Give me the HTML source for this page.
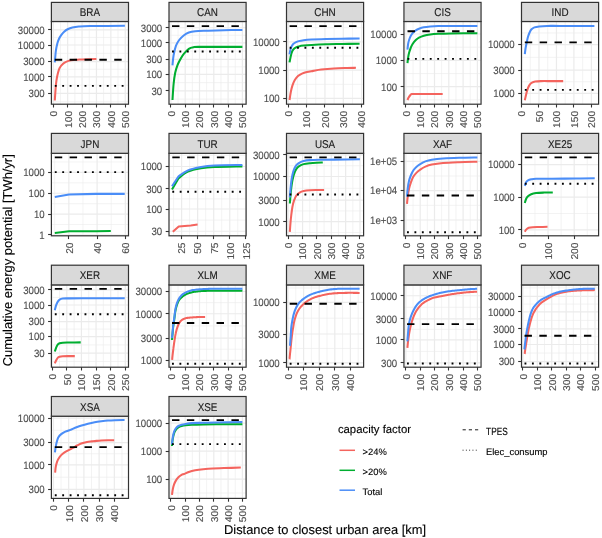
<!DOCTYPE html><html><head><meta charset="utf-8"><style>html,body{margin:0;padding:0;background:#fff}svg{display:block;will-change:transform}text{font-family:"Liberation Sans",sans-serif;text-rendering:geometricPrecision;stroke:currentColor;stroke-width:0.12px;paint-order:stroke}</style></head><body>
<svg width="602" height="538" viewBox="0 0 602 538">
<rect x="0" y="0" width="602" height="538" fill="#fff"/>
<g>
<line x1="51.4" y1="101.79" x2="128.5" y2="101.79" stroke="#EBEBEB" stroke-width="0.6"/>
<line x1="51.4" y1="85.15" x2="128.5" y2="85.15" stroke="#EBEBEB" stroke-width="0.6"/>
<line x1="51.4" y1="69.24" x2="128.5" y2="69.24" stroke="#EBEBEB" stroke-width="0.6"/>
<line x1="51.4" y1="53.33" x2="128.5" y2="53.33" stroke="#EBEBEB" stroke-width="0.6"/>
<line x1="51.4" y1="37.42" x2="128.5" y2="37.42" stroke="#EBEBEB" stroke-width="0.6"/>
<line x1="60.47" y1="21.5" x2="60.47" y2="104.2" stroke="#EBEBEB" stroke-width="0.6"/>
<line x1="74.86" y1="21.5" x2="74.86" y2="104.2" stroke="#EBEBEB" stroke-width="0.6"/>
<line x1="89.25" y1="21.5" x2="89.25" y2="104.2" stroke="#EBEBEB" stroke-width="0.6"/>
<line x1="103.64" y1="21.5" x2="103.64" y2="104.2" stroke="#EBEBEB" stroke-width="0.6"/>
<line x1="118.03" y1="21.5" x2="118.03" y2="104.2" stroke="#EBEBEB" stroke-width="0.6"/>
<line x1="51.4" y1="29.83" x2="128.5" y2="29.83" stroke="#EBEBEB" stroke-width="1.2"/>
<line x1="51.4" y1="45.01" x2="128.5" y2="45.01" stroke="#EBEBEB" stroke-width="1.2"/>
<line x1="51.4" y1="61.65" x2="128.5" y2="61.65" stroke="#EBEBEB" stroke-width="1.2"/>
<line x1="51.4" y1="76.83" x2="128.5" y2="76.83" stroke="#EBEBEB" stroke-width="1.2"/>
<line x1="51.4" y1="93.47" x2="128.5" y2="93.47" stroke="#EBEBEB" stroke-width="1.2"/>
<line x1="53.27" y1="21.5" x2="53.27" y2="104.2" stroke="#EBEBEB" stroke-width="1.2"/>
<line x1="67.66" y1="21.5" x2="67.66" y2="104.2" stroke="#EBEBEB" stroke-width="1.2"/>
<line x1="82.05" y1="21.5" x2="82.05" y2="104.2" stroke="#EBEBEB" stroke-width="1.2"/>
<line x1="96.45" y1="21.5" x2="96.45" y2="104.2" stroke="#EBEBEB" stroke-width="1.2"/>
<line x1="110.84" y1="21.5" x2="110.84" y2="104.2" stroke="#EBEBEB" stroke-width="1.2"/>
<line x1="125.23" y1="21.5" x2="125.23" y2="104.2" stroke="#EBEBEB" stroke-width="1.2"/>
<path d="M54.8,100.48 C54.93,98.53 55.33,92.08 55.6,88.8 C55.87,85.52 56,83.47 56.4,80.8 C56.8,78.13 57.47,74.93 58,72.8 C58.53,70.67 58.8,69.47 59.6,68 C60.4,66.53 61.73,65.01 62.8,64 C63.87,62.99 64.67,62.53 66,61.92 C67.33,61.31 68.93,60.69 70.8,60.32 C72.67,59.95 75.33,59.81 77.2,59.68 C79.07,59.55 78.8,59.63 82,59.52 C85.2,59.41 94,59.12 96.4,59.04" fill="none" stroke="#F4645E" stroke-width="2.05" stroke-linejoin="round"/>
<path d="M54.8,62.4 C54.88,61.47 55.09,58.8 55.28,56.8 C55.47,54.8 55.6,52.53 55.92,50.4 C56.24,48.27 56.72,45.87 57.2,44 C57.68,42.13 58.13,40.67 58.8,39.2 C59.47,37.73 60.27,36.48 61.2,35.2 C62.13,33.92 63.33,32.51 64.4,31.52 C65.47,30.53 66.27,29.95 67.6,29.28 C68.93,28.61 70.53,27.97 72.4,27.52 C74.27,27.07 75.87,26.8 78.8,26.56 C81.73,26.32 82.32,26.21 90,26.08 C97.68,25.95 119.07,25.81 124.88,25.76" fill="none" stroke="#4A8DF7" stroke-width="2.05" stroke-linejoin="round"/>
<line x1="54.8" y1="59.7" x2="124.9" y2="59.7" stroke="#000" stroke-width="1.86" stroke-dasharray="7.43 7.43"/>
<line x1="54.8" y1="85.9" x2="124.9" y2="85.9" stroke="#000" stroke-width="1.86" stroke-dasharray="1.86 5.57"/>
<rect x="51.4" y="21.5" width="77.1" height="82.7" fill="none" stroke="#333333" stroke-width="1.2"/>
<rect x="51.4" y="2.4" width="77.1" height="19.1" fill="#D9D9D9" stroke="#333333" stroke-width="1.2"/>
<text transform="translate(89.95,16.26) scale(0.96,1.1)" font-size="10.3" fill="#1A1A1A" color="#1A1A1A" text-anchor="middle">BRA</text>
<line x1="48.1" y1="29.5" x2="51.4" y2="29.5" stroke="#333333" stroke-width="1.1"/>
<text transform="translate(44.6,33.66) scale(0.975,1.08)" font-size="9.9" fill="#4D4D4D" color="#4D4D4D" text-anchor="end">30000</text>
<line x1="48.1" y1="45.5" x2="51.4" y2="45.5" stroke="#333333" stroke-width="1.1"/>
<text transform="translate(44.6,48.84) scale(0.975,1.08)" font-size="9.9" fill="#4D4D4D" color="#4D4D4D" text-anchor="end">10000</text>
<line x1="48.1" y1="61.5" x2="51.4" y2="61.5" stroke="#333333" stroke-width="1.1"/>
<text transform="translate(44.6,65.48) scale(0.975,1.08)" font-size="9.9" fill="#4D4D4D" color="#4D4D4D" text-anchor="end">3000</text>
<line x1="48.1" y1="76.5" x2="51.4" y2="76.5" stroke="#333333" stroke-width="1.1"/>
<text transform="translate(44.6,80.66) scale(0.975,1.08)" font-size="9.9" fill="#4D4D4D" color="#4D4D4D" text-anchor="end">1000</text>
<line x1="48.1" y1="93.5" x2="51.4" y2="93.5" stroke="#333333" stroke-width="1.1"/>
<text transform="translate(44.6,97.3) scale(0.975,1.08)" font-size="9.9" fill="#4D4D4D" color="#4D4D4D" text-anchor="end">300</text>
<line x1="53.5" y1="104.2" x2="53.5" y2="107.5" stroke="#333333" stroke-width="1.1"/>
<text transform="translate(57.12,110.9) rotate(-90) scale(1.035,1.0)" font-size="9.9" fill="#4D4D4D" color="#4D4D4D" text-anchor="end">0</text>
<line x1="67.5" y1="104.2" x2="67.5" y2="107.5" stroke="#333333" stroke-width="1.1"/>
<text transform="translate(71.51,110.9) rotate(-90) scale(1.035,1.0)" font-size="9.9" fill="#4D4D4D" color="#4D4D4D" text-anchor="end">100</text>
<line x1="82.5" y1="104.2" x2="82.5" y2="107.5" stroke="#333333" stroke-width="1.1"/>
<text transform="translate(85.9,110.9) rotate(-90) scale(1.035,1.0)" font-size="9.9" fill="#4D4D4D" color="#4D4D4D" text-anchor="end">200</text>
<line x1="96.5" y1="104.2" x2="96.5" y2="107.5" stroke="#333333" stroke-width="1.1"/>
<text transform="translate(100.29,110.9) rotate(-90) scale(1.035,1.0)" font-size="9.9" fill="#4D4D4D" color="#4D4D4D" text-anchor="end">300</text>
<line x1="110.5" y1="104.2" x2="110.5" y2="107.5" stroke="#333333" stroke-width="1.1"/>
<text transform="translate(114.68,110.9) rotate(-90) scale(1.035,1.0)" font-size="9.9" fill="#4D4D4D" color="#4D4D4D" text-anchor="end">400</text>
<line x1="125.5" y1="104.2" x2="125.5" y2="107.5" stroke="#333333" stroke-width="1.1"/>
<text transform="translate(129.07,110.9) rotate(-90) scale(1.035,1.0)" font-size="9.9" fill="#4D4D4D" color="#4D4D4D" text-anchor="end">500</text>
</g>
<g>
<line x1="169" y1="99.12" x2="246.1" y2="99.12" stroke="#EBEBEB" stroke-width="0.6"/>
<line x1="169" y1="82.62" x2="246.1" y2="82.62" stroke="#EBEBEB" stroke-width="0.6"/>
<line x1="169" y1="66.84" x2="246.1" y2="66.84" stroke="#EBEBEB" stroke-width="0.6"/>
<line x1="169" y1="51.06" x2="246.1" y2="51.06" stroke="#EBEBEB" stroke-width="0.6"/>
<line x1="169" y1="35.28" x2="246.1" y2="35.28" stroke="#EBEBEB" stroke-width="0.6"/>
<line x1="178.05" y1="21.5" x2="178.05" y2="104.2" stroke="#EBEBEB" stroke-width="0.6"/>
<line x1="192.35" y1="21.5" x2="192.35" y2="104.2" stroke="#EBEBEB" stroke-width="0.6"/>
<line x1="206.65" y1="21.5" x2="206.65" y2="104.2" stroke="#EBEBEB" stroke-width="0.6"/>
<line x1="220.95" y1="21.5" x2="220.95" y2="104.2" stroke="#EBEBEB" stroke-width="0.6"/>
<line x1="235.25" y1="21.5" x2="235.25" y2="104.2" stroke="#EBEBEB" stroke-width="0.6"/>
<line x1="169" y1="27.75" x2="246.1" y2="27.75" stroke="#EBEBEB" stroke-width="1.2"/>
<line x1="169" y1="42.81" x2="246.1" y2="42.81" stroke="#EBEBEB" stroke-width="1.2"/>
<line x1="169" y1="59.31" x2="246.1" y2="59.31" stroke="#EBEBEB" stroke-width="1.2"/>
<line x1="169" y1="74.37" x2="246.1" y2="74.37" stroke="#EBEBEB" stroke-width="1.2"/>
<line x1="169" y1="90.87" x2="246.1" y2="90.87" stroke="#EBEBEB" stroke-width="1.2"/>
<line x1="170.9" y1="21.5" x2="170.9" y2="104.2" stroke="#EBEBEB" stroke-width="1.2"/>
<line x1="185.2" y1="21.5" x2="185.2" y2="104.2" stroke="#EBEBEB" stroke-width="1.2"/>
<line x1="199.5" y1="21.5" x2="199.5" y2="104.2" stroke="#EBEBEB" stroke-width="1.2"/>
<line x1="213.8" y1="21.5" x2="213.8" y2="104.2" stroke="#EBEBEB" stroke-width="1.2"/>
<line x1="228.1" y1="21.5" x2="228.1" y2="104.2" stroke="#EBEBEB" stroke-width="1.2"/>
<line x1="242.4" y1="21.5" x2="242.4" y2="104.2" stroke="#EBEBEB" stroke-width="1.2"/>
<path d="M172.48,100 C172.67,97.33 173.15,88.53 173.6,84 C174.05,79.47 174.53,76 175.2,72.8 C175.87,69.6 176.67,67.2 177.6,64.8 C178.53,62.4 179.73,60.27 180.8,58.4 C181.87,56.53 182.67,55.2 184,53.6 C185.33,52 187.2,49.87 188.8,48.8 C190.4,47.73 191.73,47.52 193.6,47.2 C195.47,46.88 191.87,46.93 200,46.88 C208.13,46.83 235.33,46.88 242.4,46.88" fill="none" stroke="#00AE30" stroke-width="2.05" stroke-linejoin="round"/>
<path d="M172.48,65.28 C172.67,63.6 173.01,58.48 173.6,55.2 C174.19,51.92 175.07,48.13 176,45.6 C176.93,43.07 177.87,41.73 179.2,40 C180.53,38.27 182.4,36.45 184,35.2 C185.6,33.95 186.93,33.15 188.8,32.48 C190.67,31.81 192,31.49 195.2,31.2 C198.4,30.91 203.2,30.88 208,30.72 C212.8,30.56 218.27,30.37 224,30.24 C229.73,30.11 239.33,29.97 242.4,29.92" fill="none" stroke="#4A8DF7" stroke-width="2.05" stroke-linejoin="round"/>
<line x1="172" y1="26.1" x2="242.4" y2="26.1" stroke="#000" stroke-width="1.86" stroke-dasharray="7.43 7.43"/>
<line x1="172" y1="51.5" x2="242.4" y2="51.5" stroke="#000" stroke-width="1.86" stroke-dasharray="1.86 5.57"/>
<rect x="169" y="21.5" width="77.1" height="82.7" fill="none" stroke="#333333" stroke-width="1.2"/>
<rect x="169" y="2.4" width="77.1" height="19.1" fill="#D9D9D9" stroke="#333333" stroke-width="1.2"/>
<text transform="translate(207.55,16.26) scale(0.96,1.1)" font-size="10.3" fill="#1A1A1A" color="#1A1A1A" text-anchor="middle">CAN</text>
<line x1="165.7" y1="27.5" x2="169" y2="27.5" stroke="#333333" stroke-width="1.1"/>
<text transform="translate(162.2,31.58) scale(0.975,1.08)" font-size="9.9" fill="#4D4D4D" color="#4D4D4D" text-anchor="end">3000</text>
<line x1="165.7" y1="42.5" x2="169" y2="42.5" stroke="#333333" stroke-width="1.1"/>
<text transform="translate(162.2,46.63) scale(0.975,1.08)" font-size="9.9" fill="#4D4D4D" color="#4D4D4D" text-anchor="end">1000</text>
<line x1="165.7" y1="59.5" x2="169" y2="59.5" stroke="#333333" stroke-width="1.1"/>
<text transform="translate(162.2,63.14) scale(0.975,1.08)" font-size="9.9" fill="#4D4D4D" color="#4D4D4D" text-anchor="end">300</text>
<line x1="165.7" y1="74.5" x2="169" y2="74.5" stroke="#333333" stroke-width="1.1"/>
<text transform="translate(162.2,78.19) scale(0.975,1.08)" font-size="9.9" fill="#4D4D4D" color="#4D4D4D" text-anchor="end">100</text>
<line x1="165.7" y1="90.5" x2="169" y2="90.5" stroke="#333333" stroke-width="1.1"/>
<text transform="translate(162.2,94.7) scale(0.975,1.08)" font-size="9.9" fill="#4D4D4D" color="#4D4D4D" text-anchor="end">30</text>
<line x1="170.5" y1="104.2" x2="170.5" y2="107.5" stroke="#333333" stroke-width="1.1"/>
<text transform="translate(174.74,110.9) rotate(-90) scale(1.035,1.0)" font-size="9.9" fill="#4D4D4D" color="#4D4D4D" text-anchor="end">0</text>
<line x1="185.5" y1="104.2" x2="185.5" y2="107.5" stroke="#333333" stroke-width="1.1"/>
<text transform="translate(189.04,110.9) rotate(-90) scale(1.035,1.0)" font-size="9.9" fill="#4D4D4D" color="#4D4D4D" text-anchor="end">100</text>
<line x1="199.5" y1="104.2" x2="199.5" y2="107.5" stroke="#333333" stroke-width="1.1"/>
<text transform="translate(203.34,110.9) rotate(-90) scale(1.035,1.0)" font-size="9.9" fill="#4D4D4D" color="#4D4D4D" text-anchor="end">200</text>
<line x1="213.5" y1="104.2" x2="213.5" y2="107.5" stroke="#333333" stroke-width="1.1"/>
<text transform="translate(217.64,110.9) rotate(-90) scale(1.035,1.0)" font-size="9.9" fill="#4D4D4D" color="#4D4D4D" text-anchor="end">300</text>
<line x1="228.5" y1="104.2" x2="228.5" y2="107.5" stroke="#333333" stroke-width="1.1"/>
<text transform="translate(231.94,110.9) rotate(-90) scale(1.035,1.0)" font-size="9.9" fill="#4D4D4D" color="#4D4D4D" text-anchor="end">400</text>
<line x1="242.5" y1="104.2" x2="242.5" y2="107.5" stroke="#333333" stroke-width="1.1"/>
<text transform="translate(246.24,110.9) rotate(-90) scale(1.035,1.0)" font-size="9.9" fill="#4D4D4D" color="#4D4D4D" text-anchor="end">500</text>
</g>
<g>
<line x1="286.5" y1="84.32" x2="363.6" y2="84.32" stroke="#EBEBEB" stroke-width="0.6"/>
<line x1="286.5" y1="56.02" x2="363.6" y2="56.02" stroke="#EBEBEB" stroke-width="0.6"/>
<line x1="286.5" y1="27.72" x2="363.6" y2="27.72" stroke="#EBEBEB" stroke-width="0.6"/>
<line x1="297.42" y1="21.5" x2="297.42" y2="104.2" stroke="#EBEBEB" stroke-width="0.6"/>
<line x1="315.77" y1="21.5" x2="315.77" y2="104.2" stroke="#EBEBEB" stroke-width="0.6"/>
<line x1="334.12" y1="21.5" x2="334.12" y2="104.2" stroke="#EBEBEB" stroke-width="0.6"/>
<line x1="352.47" y1="21.5" x2="352.47" y2="104.2" stroke="#EBEBEB" stroke-width="0.6"/>
<line x1="286.5" y1="41.87" x2="363.6" y2="41.87" stroke="#EBEBEB" stroke-width="1.2"/>
<line x1="286.5" y1="70.17" x2="363.6" y2="70.17" stroke="#EBEBEB" stroke-width="1.2"/>
<line x1="286.5" y1="98.47" x2="363.6" y2="98.47" stroke="#EBEBEB" stroke-width="1.2"/>
<line x1="288.25" y1="21.5" x2="288.25" y2="104.2" stroke="#EBEBEB" stroke-width="1.2"/>
<line x1="306.6" y1="21.5" x2="306.6" y2="104.2" stroke="#EBEBEB" stroke-width="1.2"/>
<line x1="324.95" y1="21.5" x2="324.95" y2="104.2" stroke="#EBEBEB" stroke-width="1.2"/>
<line x1="343.3" y1="21.5" x2="343.3" y2="104.2" stroke="#EBEBEB" stroke-width="1.2"/>
<line x1="361.65" y1="21.5" x2="361.65" y2="104.2" stroke="#EBEBEB" stroke-width="1.2"/>
<path d="M289.52,100 C289.73,98.67 290.32,94.4 290.8,92 C291.28,89.6 291.73,87.6 292.4,85.6 C293.07,83.6 293.87,81.6 294.8,80 C295.73,78.4 296.8,77.07 298,76 C299.2,74.93 300.53,74.27 302,73.6 C303.47,72.93 304.93,72.45 306.8,72 C308.67,71.55 310.8,71.28 313.2,70.88 C315.6,70.48 317.73,70 321.2,69.6 C324.67,69.2 329.73,68.75 334,68.48 C338.27,68.21 343.15,68.11 346.8,68 C350.45,67.89 354.4,67.87 355.92,67.84" fill="none" stroke="#F4645E" stroke-width="2.05" stroke-linejoin="round"/>
<path d="M289.52,62.4 C289.68,61.6 290.13,59.2 290.48,57.6 C290.83,56 291.15,54.13 291.6,52.8 C292.05,51.47 292.53,50.48 293.2,49.6 C293.87,48.72 294.67,48.05 295.6,47.52 C296.53,46.99 297.47,46.72 298.8,46.4 C300.13,46.08 301.47,45.84 303.6,45.6 C305.73,45.36 307.87,45.17 311.6,44.96 C315.33,44.75 320.93,44.48 326,44.32 C331.07,44.16 336.4,44.11 342,44 C347.6,43.89 356.67,43.73 359.6,43.68" fill="none" stroke="#00AE30" stroke-width="2.05" stroke-linejoin="round"/>
<path d="M289.52,54.4 C289.68,53.6 290.13,50.93 290.48,49.6 C290.83,48.27 291.15,47.33 291.6,46.4 C292.05,45.47 292.53,44.67 293.2,44 C293.87,43.33 294.67,42.88 295.6,42.4 C296.53,41.92 297.47,41.49 298.8,41.12 C300.13,40.75 301.47,40.43 303.6,40.16 C305.73,39.89 307.87,39.71 311.6,39.52 C315.33,39.33 320.93,39.17 326,39.04 C331.07,38.91 336.4,38.8 342,38.72 C347.6,38.64 356.67,38.59 359.6,38.56" fill="none" stroke="#4A8DF7" stroke-width="2.05" stroke-linejoin="round"/>
<line x1="289.6" y1="26.1" x2="359.6" y2="26.1" stroke="#000" stroke-width="1.86" stroke-dasharray="7.43 7.43"/>
<line x1="289.6" y1="47.7" x2="359.6" y2="47.7" stroke="#000" stroke-width="1.86" stroke-dasharray="1.86 5.57"/>
<rect x="286.5" y="21.5" width="77.1" height="82.7" fill="none" stroke="#333333" stroke-width="1.2"/>
<rect x="286.5" y="2.4" width="77.1" height="19.1" fill="#D9D9D9" stroke="#333333" stroke-width="1.2"/>
<text transform="translate(325.05,16.26) scale(0.96,1.1)" font-size="10.3" fill="#1A1A1A" color="#1A1A1A" text-anchor="middle">CHN</text>
<line x1="283.2" y1="41.5" x2="286.5" y2="41.5" stroke="#333333" stroke-width="1.1"/>
<text transform="translate(279.7,45.69) scale(0.975,1.08)" font-size="9.9" fill="#4D4D4D" color="#4D4D4D" text-anchor="end">10000</text>
<line x1="283.2" y1="70.5" x2="286.5" y2="70.5" stroke="#333333" stroke-width="1.1"/>
<text transform="translate(279.7,73.99) scale(0.975,1.08)" font-size="9.9" fill="#4D4D4D" color="#4D4D4D" text-anchor="end">1000</text>
<line x1="283.2" y1="98.5" x2="286.5" y2="98.5" stroke="#333333" stroke-width="1.1"/>
<text transform="translate(279.7,102.29) scale(0.975,1.08)" font-size="9.9" fill="#4D4D4D" color="#4D4D4D" text-anchor="end">100</text>
<line x1="288.5" y1="104.2" x2="288.5" y2="107.5" stroke="#333333" stroke-width="1.1"/>
<text transform="translate(292.09,110.9) rotate(-90) scale(1.035,1.0)" font-size="9.9" fill="#4D4D4D" color="#4D4D4D" text-anchor="end">0</text>
<line x1="306.5" y1="104.2" x2="306.5" y2="107.5" stroke="#333333" stroke-width="1.1"/>
<text transform="translate(310.44,110.9) rotate(-90) scale(1.035,1.0)" font-size="9.9" fill="#4D4D4D" color="#4D4D4D" text-anchor="end">100</text>
<line x1="324.5" y1="104.2" x2="324.5" y2="107.5" stroke="#333333" stroke-width="1.1"/>
<text transform="translate(328.79,110.9) rotate(-90) scale(1.035,1.0)" font-size="9.9" fill="#4D4D4D" color="#4D4D4D" text-anchor="end">200</text>
<line x1="343.5" y1="104.2" x2="343.5" y2="107.5" stroke="#333333" stroke-width="1.1"/>
<text transform="translate(347.14,110.9) rotate(-90) scale(1.035,1.0)" font-size="9.9" fill="#4D4D4D" color="#4D4D4D" text-anchor="end">300</text>
<line x1="361.5" y1="104.2" x2="361.5" y2="107.5" stroke="#333333" stroke-width="1.1"/>
<text transform="translate(365.49,110.9) rotate(-90) scale(1.035,1.0)" font-size="9.9" fill="#4D4D4D" color="#4D4D4D" text-anchor="end">400</text>
</g>
<g>
<line x1="403.95" y1="99.89" x2="481.05" y2="99.89" stroke="#EBEBEB" stroke-width="0.6"/>
<line x1="403.95" y1="73.54" x2="481.05" y2="73.54" stroke="#EBEBEB" stroke-width="0.6"/>
<line x1="403.95" y1="47.19" x2="481.05" y2="47.19" stroke="#EBEBEB" stroke-width="0.6"/>
<line x1="413.05" y1="21.5" x2="413.05" y2="104.2" stroke="#EBEBEB" stroke-width="0.6"/>
<line x1="427.35" y1="21.5" x2="427.35" y2="104.2" stroke="#EBEBEB" stroke-width="0.6"/>
<line x1="441.65" y1="21.5" x2="441.65" y2="104.2" stroke="#EBEBEB" stroke-width="0.6"/>
<line x1="455.95" y1="21.5" x2="455.95" y2="104.2" stroke="#EBEBEB" stroke-width="0.6"/>
<line x1="470.25" y1="21.5" x2="470.25" y2="104.2" stroke="#EBEBEB" stroke-width="0.6"/>
<line x1="403.95" y1="34.02" x2="481.05" y2="34.02" stroke="#EBEBEB" stroke-width="1.2"/>
<line x1="403.95" y1="60.37" x2="481.05" y2="60.37" stroke="#EBEBEB" stroke-width="1.2"/>
<line x1="403.95" y1="86.72" x2="481.05" y2="86.72" stroke="#EBEBEB" stroke-width="1.2"/>
<line x1="405.9" y1="21.5" x2="405.9" y2="104.2" stroke="#EBEBEB" stroke-width="1.2"/>
<line x1="420.2" y1="21.5" x2="420.2" y2="104.2" stroke="#EBEBEB" stroke-width="1.2"/>
<line x1="434.5" y1="21.5" x2="434.5" y2="104.2" stroke="#EBEBEB" stroke-width="1.2"/>
<line x1="448.8" y1="21.5" x2="448.8" y2="104.2" stroke="#EBEBEB" stroke-width="1.2"/>
<line x1="463.1" y1="21.5" x2="463.1" y2="104.2" stroke="#EBEBEB" stroke-width="1.2"/>
<line x1="477.4" y1="21.5" x2="477.4" y2="104.2" stroke="#EBEBEB" stroke-width="1.2"/>
<path d="M407.48,100 C407.67,99.6 408.15,98.4 408.6,97.6 C409.05,96.8 409.67,95.79 410.2,95.2 C410.73,94.61 411.13,94.29 411.8,94.08 C412.47,93.87 412.47,93.95 414.2,93.92 C415.93,93.89 417.45,93.92 422.2,93.92 C426.95,93.92 439.27,93.92 442.68,93.92" fill="none" stroke="#F4645E" stroke-width="2.05" stroke-linejoin="round"/>
<path d="M407.48,63.2 C407.59,62.27 407.85,59.33 408.12,57.6 C408.39,55.87 408.65,54.4 409.08,52.8 C409.51,51.2 410.09,49.47 410.68,48 C411.27,46.53 411.75,45.33 412.6,44 C413.45,42.67 414.73,41.07 415.8,40 C416.87,38.93 417.67,38.32 419,37.6 C420.33,36.88 421.93,36.21 423.8,35.68 C425.67,35.15 427.8,34.72 430.2,34.4 C432.6,34.08 434.73,33.92 438.2,33.76 C441.67,33.6 444.47,33.52 451,33.44 C457.53,33.36 473,33.31 477.4,33.28" fill="none" stroke="#00AE30" stroke-width="2.05" stroke-linejoin="round"/>
<path d="M407.48,49.6 C407.59,48.67 407.85,45.6 408.12,44 C408.39,42.4 408.65,41.33 409.08,40 C409.51,38.67 410.09,37.15 410.68,36 C411.27,34.85 411.75,34.05 412.6,33.12 C413.45,32.19 414.73,31.12 415.8,30.4 C416.87,29.68 417.67,29.31 419,28.8 C420.33,28.29 421.93,27.73 423.8,27.36 C425.67,26.99 427.8,26.77 430.2,26.56 C432.6,26.35 434.73,26.19 438.2,26.08 C441.67,25.97 444.47,25.95 451,25.92 C457.53,25.89 473,25.92 477.4,25.92" fill="none" stroke="#4A8DF7" stroke-width="2.05" stroke-linejoin="round"/>
<line x1="407.5" y1="31.2" x2="477.4" y2="31.2" stroke="#000" stroke-width="1.86" stroke-dasharray="7.43 7.43"/>
<line x1="407.5" y1="58.9" x2="477.4" y2="58.9" stroke="#000" stroke-width="1.86" stroke-dasharray="1.86 5.57"/>
<rect x="403.95" y="21.5" width="77.1" height="82.7" fill="none" stroke="#333333" stroke-width="1.2"/>
<rect x="403.95" y="2.4" width="77.1" height="19.1" fill="#D9D9D9" stroke="#333333" stroke-width="1.2"/>
<text transform="translate(442.5,16.26) scale(0.96,1.1)" font-size="10.3" fill="#1A1A1A" color="#1A1A1A" text-anchor="middle">CIS</text>
<line x1="400.65" y1="34.5" x2="403.95" y2="34.5" stroke="#333333" stroke-width="1.1"/>
<text transform="translate(397.15,37.84) scale(0.975,1.08)" font-size="9.9" fill="#4D4D4D" color="#4D4D4D" text-anchor="end">10000</text>
<line x1="400.65" y1="60.5" x2="403.95" y2="60.5" stroke="#333333" stroke-width="1.1"/>
<text transform="translate(397.15,64.19) scale(0.975,1.08)" font-size="9.9" fill="#4D4D4D" color="#4D4D4D" text-anchor="end">1000</text>
<line x1="400.65" y1="86.5" x2="403.95" y2="86.5" stroke="#333333" stroke-width="1.1"/>
<text transform="translate(397.15,90.54) scale(0.975,1.08)" font-size="9.9" fill="#4D4D4D" color="#4D4D4D" text-anchor="end">100</text>
<line x1="405.5" y1="104.2" x2="405.5" y2="107.5" stroke="#333333" stroke-width="1.1"/>
<text transform="translate(409.74,110.9) rotate(-90) scale(1.035,1.0)" font-size="9.9" fill="#4D4D4D" color="#4D4D4D" text-anchor="end">0</text>
<line x1="420.5" y1="104.2" x2="420.5" y2="107.5" stroke="#333333" stroke-width="1.1"/>
<text transform="translate(424.04,110.9) rotate(-90) scale(1.035,1.0)" font-size="9.9" fill="#4D4D4D" color="#4D4D4D" text-anchor="end">100</text>
<line x1="434.5" y1="104.2" x2="434.5" y2="107.5" stroke="#333333" stroke-width="1.1"/>
<text transform="translate(438.34,110.9) rotate(-90) scale(1.035,1.0)" font-size="9.9" fill="#4D4D4D" color="#4D4D4D" text-anchor="end">200</text>
<line x1="448.5" y1="104.2" x2="448.5" y2="107.5" stroke="#333333" stroke-width="1.1"/>
<text transform="translate(452.64,110.9) rotate(-90) scale(1.035,1.0)" font-size="9.9" fill="#4D4D4D" color="#4D4D4D" text-anchor="end">300</text>
<line x1="463.5" y1="104.2" x2="463.5" y2="107.5" stroke="#333333" stroke-width="1.1"/>
<text transform="translate(466.94,110.9) rotate(-90) scale(1.035,1.0)" font-size="9.9" fill="#4D4D4D" color="#4D4D4D" text-anchor="end">400</text>
<line x1="477.5" y1="104.2" x2="477.5" y2="107.5" stroke="#333333" stroke-width="1.1"/>
<text transform="translate(481.24,110.9) rotate(-90) scale(1.035,1.0)" font-size="9.9" fill="#4D4D4D" color="#4D4D4D" text-anchor="end">500</text>
</g>
<g>
<line x1="521.5" y1="81.75" x2="598.6" y2="81.75" stroke="#EBEBEB" stroke-width="0.6"/>
<line x1="521.5" y1="57.35" x2="598.6" y2="57.35" stroke="#EBEBEB" stroke-width="0.6"/>
<line x1="521.5" y1="32.95" x2="598.6" y2="32.95" stroke="#EBEBEB" stroke-width="0.6"/>
<line x1="530.24" y1="21.5" x2="530.24" y2="104.2" stroke="#EBEBEB" stroke-width="0.6"/>
<line x1="547.71" y1="21.5" x2="547.71" y2="104.2" stroke="#EBEBEB" stroke-width="0.6"/>
<line x1="565.19" y1="21.5" x2="565.19" y2="104.2" stroke="#EBEBEB" stroke-width="0.6"/>
<line x1="582.66" y1="21.5" x2="582.66" y2="104.2" stroke="#EBEBEB" stroke-width="0.6"/>
<line x1="521.5" y1="44.59" x2="598.6" y2="44.59" stroke="#EBEBEB" stroke-width="1.2"/>
<line x1="521.5" y1="70.11" x2="598.6" y2="70.11" stroke="#EBEBEB" stroke-width="1.2"/>
<line x1="521.5" y1="93.39" x2="598.6" y2="93.39" stroke="#EBEBEB" stroke-width="1.2"/>
<line x1="521.5" y1="21.5" x2="521.5" y2="104.2" stroke="#EBEBEB" stroke-width="1.2"/>
<line x1="538.98" y1="21.5" x2="538.98" y2="104.2" stroke="#EBEBEB" stroke-width="1.2"/>
<line x1="556.45" y1="21.5" x2="556.45" y2="104.2" stroke="#EBEBEB" stroke-width="1.2"/>
<line x1="573.92" y1="21.5" x2="573.92" y2="104.2" stroke="#EBEBEB" stroke-width="1.2"/>
<line x1="591.4" y1="21.5" x2="591.4" y2="104.2" stroke="#EBEBEB" stroke-width="1.2"/>
<path d="M524.8,100.32 C524.93,99.73 525.28,98.19 525.6,96.8 C525.92,95.41 526.32,93.47 526.72,92 C527.12,90.53 527.52,89.2 528,88 C528.48,86.8 528.93,85.68 529.6,84.8 C530.27,83.92 531.07,83.25 532,82.72 C532.93,82.19 533.73,81.87 535.2,81.6 C536.67,81.33 538,81.2 540.8,81.12 C543.6,81.04 548.27,81.12 552,81.12 C555.73,81.12 561.33,81.12 563.2,81.12" fill="none" stroke="#F4645E" stroke-width="2.05" stroke-linejoin="round"/>
<path d="M524.8,54.08 C524.93,53.07 525.28,49.95 525.6,48 C525.92,46.05 526.32,44.27 526.72,42.4 C527.12,40.53 527.52,38.45 528,36.8 C528.48,35.15 529.01,33.73 529.6,32.48 C530.19,31.23 530.72,30.13 531.52,29.28 C532.32,28.43 533.12,27.84 534.4,27.36 C535.68,26.88 537.07,26.64 539.2,26.4 C541.33,26.16 543.73,26 547.2,25.92 C550.67,25.84 552.13,25.92 560,25.92 C567.87,25.92 588.67,25.92 594.4,25.92" fill="none" stroke="#4A8DF7" stroke-width="2.05" stroke-linejoin="round"/>
<line x1="524.8" y1="42.4" x2="594.4" y2="42.4" stroke="#000" stroke-width="1.86" stroke-dasharray="7.43 7.43"/>
<line x1="524.8" y1="89.9" x2="594.4" y2="89.9" stroke="#000" stroke-width="1.86" stroke-dasharray="1.86 5.57"/>
<rect x="521.5" y="21.5" width="77.1" height="82.7" fill="none" stroke="#333333" stroke-width="1.2"/>
<rect x="521.5" y="2.4" width="77.1" height="19.1" fill="#D9D9D9" stroke="#333333" stroke-width="1.2"/>
<text transform="translate(560.05,16.26) scale(0.96,1.1)" font-size="10.3" fill="#1A1A1A" color="#1A1A1A" text-anchor="middle">IND</text>
<line x1="518.2" y1="44.5" x2="521.5" y2="44.5" stroke="#333333" stroke-width="1.1"/>
<text transform="translate(514.7,48.42) scale(0.975,1.08)" font-size="9.9" fill="#4D4D4D" color="#4D4D4D" text-anchor="end">10000</text>
<line x1="518.2" y1="70.5" x2="521.5" y2="70.5" stroke="#333333" stroke-width="1.1"/>
<text transform="translate(514.7,73.94) scale(0.975,1.08)" font-size="9.9" fill="#4D4D4D" color="#4D4D4D" text-anchor="end">3000</text>
<line x1="518.2" y1="93.5" x2="521.5" y2="93.5" stroke="#333333" stroke-width="1.1"/>
<text transform="translate(514.7,97.22) scale(0.975,1.08)" font-size="9.9" fill="#4D4D4D" color="#4D4D4D" text-anchor="end">1000</text>
<line x1="521.5" y1="104.2" x2="521.5" y2="107.5" stroke="#333333" stroke-width="1.1"/>
<text transform="translate(525.35,110.9) rotate(-90) scale(1.035,1.0)" font-size="9.9" fill="#4D4D4D" color="#4D4D4D" text-anchor="end">0</text>
<line x1="538.5" y1="104.2" x2="538.5" y2="107.5" stroke="#333333" stroke-width="1.1"/>
<text transform="translate(542.82,110.9) rotate(-90) scale(1.035,1.0)" font-size="9.9" fill="#4D4D4D" color="#4D4D4D" text-anchor="end">50</text>
<line x1="556.5" y1="104.2" x2="556.5" y2="107.5" stroke="#333333" stroke-width="1.1"/>
<text transform="translate(560.29,110.9) rotate(-90) scale(1.035,1.0)" font-size="9.9" fill="#4D4D4D" color="#4D4D4D" text-anchor="end">100</text>
<line x1="573.5" y1="104.2" x2="573.5" y2="107.5" stroke="#333333" stroke-width="1.1"/>
<text transform="translate(577.77,110.9) rotate(-90) scale(1.035,1.0)" font-size="9.9" fill="#4D4D4D" color="#4D4D4D" text-anchor="end">150</text>
<line x1="591.5" y1="104.2" x2="591.5" y2="107.5" stroke="#333333" stroke-width="1.1"/>
<text transform="translate(595.24,110.9) rotate(-90) scale(1.035,1.0)" font-size="9.9" fill="#4D4D4D" color="#4D4D4D" text-anchor="end">200</text>
</g>
<g>
<line x1="51.4" y1="224.56" x2="128.5" y2="224.56" stroke="#EBEBEB" stroke-width="0.6"/>
<line x1="51.4" y1="203.7" x2="128.5" y2="203.7" stroke="#EBEBEB" stroke-width="0.6"/>
<line x1="51.4" y1="182.84" x2="128.5" y2="182.84" stroke="#EBEBEB" stroke-width="0.6"/>
<line x1="51.4" y1="161.98" x2="128.5" y2="161.98" stroke="#EBEBEB" stroke-width="0.6"/>
<line x1="54.73" y1="153.3" x2="54.73" y2="235.8" stroke="#EBEBEB" stroke-width="0.6"/>
<line x1="82.98" y1="153.3" x2="82.98" y2="235.8" stroke="#EBEBEB" stroke-width="0.6"/>
<line x1="111.23" y1="153.3" x2="111.23" y2="235.8" stroke="#EBEBEB" stroke-width="0.6"/>
<line x1="51.4" y1="172.41" x2="128.5" y2="172.41" stroke="#EBEBEB" stroke-width="1.2"/>
<line x1="51.4" y1="193.27" x2="128.5" y2="193.27" stroke="#EBEBEB" stroke-width="1.2"/>
<line x1="51.4" y1="214.13" x2="128.5" y2="214.13" stroke="#EBEBEB" stroke-width="1.2"/>
<line x1="51.4" y1="234.99" x2="128.5" y2="234.99" stroke="#EBEBEB" stroke-width="1.2"/>
<line x1="68.85" y1="153.3" x2="68.85" y2="235.8" stroke="#EBEBEB" stroke-width="1.2"/>
<line x1="97.1" y1="153.3" x2="97.1" y2="235.8" stroke="#EBEBEB" stroke-width="1.2"/>
<line x1="125.35" y1="153.3" x2="125.35" y2="235.8" stroke="#EBEBEB" stroke-width="1.2"/>
<path d="M54.8,232.92 L69.04,231.32 L96.24,231.24 L110.8,231" fill="none" stroke="#00AE30" stroke-width="2.05" stroke-linejoin="round"/>
<path d="M54.8,196.92 L69.04,194.52 L96.24,193.88 L124.72,193.88" fill="none" stroke="#4A8DF7" stroke-width="2.05" stroke-linejoin="round"/>
<line x1="54.8" y1="157.4" x2="124.7" y2="157.4" stroke="#000" stroke-width="1.86" stroke-dasharray="7.43 7.43"/>
<line x1="54.8" y1="172.1" x2="124.7" y2="172.1" stroke="#000" stroke-width="1.86" stroke-dasharray="1.86 5.57"/>
<rect x="51.4" y="153.3" width="77.1" height="82.5" fill="none" stroke="#333333" stroke-width="1.2"/>
<rect x="51.4" y="133.4" width="77.1" height="19.9" fill="#D9D9D9" stroke="#333333" stroke-width="1.2"/>
<text transform="translate(89.95,147.66) scale(0.96,1.1)" font-size="10.3" fill="#1A1A1A" color="#1A1A1A" text-anchor="middle">JPN</text>
<line x1="48.1" y1="172.5" x2="51.4" y2="172.5" stroke="#333333" stroke-width="1.1"/>
<text transform="translate(44.6,176.24) scale(0.975,1.08)" font-size="9.9" fill="#4D4D4D" color="#4D4D4D" text-anchor="end">1000</text>
<line x1="48.1" y1="193.5" x2="51.4" y2="193.5" stroke="#333333" stroke-width="1.1"/>
<text transform="translate(44.6,197.1) scale(0.975,1.08)" font-size="9.9" fill="#4D4D4D" color="#4D4D4D" text-anchor="end">100</text>
<line x1="48.1" y1="214.5" x2="51.4" y2="214.5" stroke="#333333" stroke-width="1.1"/>
<text transform="translate(44.6,217.96) scale(0.975,1.08)" font-size="9.9" fill="#4D4D4D" color="#4D4D4D" text-anchor="end">10</text>
<line x1="48.1" y1="234.5" x2="51.4" y2="234.5" stroke="#333333" stroke-width="1.1"/>
<text transform="translate(44.6,238.82) scale(0.975,1.08)" font-size="9.9" fill="#4D4D4D" color="#4D4D4D" text-anchor="end">1</text>
<line x1="68.5" y1="235.8" x2="68.5" y2="239.1" stroke="#333333" stroke-width="1.1"/>
<text transform="translate(72.69,242.5) rotate(-90) scale(1.035,1.0)" font-size="9.9" fill="#4D4D4D" color="#4D4D4D" text-anchor="end">20</text>
<line x1="97.5" y1="235.8" x2="97.5" y2="239.1" stroke="#333333" stroke-width="1.1"/>
<text transform="translate(100.94,242.5) rotate(-90) scale(1.035,1.0)" font-size="9.9" fill="#4D4D4D" color="#4D4D4D" text-anchor="end">40</text>
<line x1="125.5" y1="235.8" x2="125.5" y2="239.1" stroke="#333333" stroke-width="1.1"/>
<text transform="translate(129.19,242.5) rotate(-90) scale(1.035,1.0)" font-size="9.9" fill="#4D4D4D" color="#4D4D4D" text-anchor="end">60</text>
</g>
<g>
<line x1="169" y1="220.13" x2="246.1" y2="220.13" stroke="#EBEBEB" stroke-width="0.6"/>
<line x1="169" y1="198.87" x2="246.1" y2="198.87" stroke="#EBEBEB" stroke-width="0.6"/>
<line x1="169" y1="177.62" x2="246.1" y2="177.62" stroke="#EBEBEB" stroke-width="0.6"/>
<line x1="169" y1="155.39" x2="246.1" y2="155.39" stroke="#EBEBEB" stroke-width="0.6"/>
<line x1="173.58" y1="153.3" x2="173.58" y2="235.8" stroke="#EBEBEB" stroke-width="0.6"/>
<line x1="189.63" y1="153.3" x2="189.63" y2="235.8" stroke="#EBEBEB" stroke-width="0.6"/>
<line x1="205.68" y1="153.3" x2="205.68" y2="235.8" stroke="#EBEBEB" stroke-width="0.6"/>
<line x1="221.73" y1="153.3" x2="221.73" y2="235.8" stroke="#EBEBEB" stroke-width="0.6"/>
<line x1="237.78" y1="153.3" x2="237.78" y2="235.8" stroke="#EBEBEB" stroke-width="0.6"/>
<line x1="169" y1="166.51" x2="246.1" y2="166.51" stroke="#EBEBEB" stroke-width="1.2"/>
<line x1="169" y1="188.73" x2="246.1" y2="188.73" stroke="#EBEBEB" stroke-width="1.2"/>
<line x1="169" y1="209.02" x2="246.1" y2="209.02" stroke="#EBEBEB" stroke-width="1.2"/>
<line x1="169" y1="231.24" x2="246.1" y2="231.24" stroke="#EBEBEB" stroke-width="1.2"/>
<line x1="181.6" y1="153.3" x2="181.6" y2="235.8" stroke="#EBEBEB" stroke-width="1.2"/>
<line x1="197.65" y1="153.3" x2="197.65" y2="235.8" stroke="#EBEBEB" stroke-width="1.2"/>
<line x1="213.7" y1="153.3" x2="213.7" y2="235.8" stroke="#EBEBEB" stroke-width="1.2"/>
<line x1="229.75" y1="153.3" x2="229.75" y2="235.8" stroke="#EBEBEB" stroke-width="1.2"/>
<line x1="245.8" y1="153.3" x2="245.8" y2="235.8" stroke="#EBEBEB" stroke-width="1.2"/>
<path d="M172.8,231.8 L178.72,226.52 L190.72,225.4 L197.6,224.6" fill="none" stroke="#F4645E" stroke-width="2.05" stroke-linejoin="round"/>
<path d="M172,189.4 L178.56,178.2 C180.13,177.11 184.24,173.29 188,171.64 C191.76,169.99 196.72,169.05 201.12,168.28 C205.52,167.51 207.52,167.32 214.4,167 C221.28,166.68 237.73,166.47 242.4,166.36" fill="none" stroke="#00AE30" stroke-width="2.05" stroke-linejoin="round"/>
<path d="M172,186.2 L178.56,176.28 C180.13,175.29 184.24,171.91 188,170.36 C191.76,168.81 196.72,167.8 201.12,167 C205.52,166.2 207.52,165.89 214.4,165.56 C221.28,165.23 237.73,165.09 242.4,165" fill="none" stroke="#4A8DF7" stroke-width="2.05" stroke-linejoin="round"/>
<line x1="172.3" y1="157.4" x2="242.4" y2="157.4" stroke="#000" stroke-width="1.86" stroke-dasharray="7.43 7.43"/>
<line x1="172.3" y1="191.8" x2="242.4" y2="191.8" stroke="#000" stroke-width="1.86" stroke-dasharray="1.86 5.57"/>
<rect x="169" y="153.3" width="77.1" height="82.5" fill="none" stroke="#333333" stroke-width="1.2"/>
<rect x="169" y="133.4" width="77.1" height="19.9" fill="#D9D9D9" stroke="#333333" stroke-width="1.2"/>
<text transform="translate(207.55,147.66) scale(0.96,1.1)" font-size="10.3" fill="#1A1A1A" color="#1A1A1A" text-anchor="middle">TUR</text>
<line x1="165.7" y1="166.5" x2="169" y2="166.5" stroke="#333333" stroke-width="1.1"/>
<text transform="translate(162.2,170.33) scale(0.975,1.08)" font-size="9.9" fill="#4D4D4D" color="#4D4D4D" text-anchor="end">1000</text>
<line x1="165.7" y1="188.5" x2="169" y2="188.5" stroke="#333333" stroke-width="1.1"/>
<text transform="translate(162.2,192.56) scale(0.975,1.08)" font-size="9.9" fill="#4D4D4D" color="#4D4D4D" text-anchor="end">300</text>
<line x1="165.7" y1="209.5" x2="169" y2="209.5" stroke="#333333" stroke-width="1.1"/>
<text transform="translate(162.2,212.84) scale(0.975,1.08)" font-size="9.9" fill="#4D4D4D" color="#4D4D4D" text-anchor="end">100</text>
<line x1="165.7" y1="231.5" x2="169" y2="231.5" stroke="#333333" stroke-width="1.1"/>
<text transform="translate(162.2,235.07) scale(0.975,1.08)" font-size="9.9" fill="#4D4D4D" color="#4D4D4D" text-anchor="end">30</text>
<line x1="181.5" y1="235.8" x2="181.5" y2="239.1" stroke="#333333" stroke-width="1.1"/>
<text transform="translate(185.44,242.5) rotate(-90) scale(1.035,1.0)" font-size="9.9" fill="#4D4D4D" color="#4D4D4D" text-anchor="end">25</text>
<line x1="197.5" y1="235.8" x2="197.5" y2="239.1" stroke="#333333" stroke-width="1.1"/>
<text transform="translate(201.49,242.5) rotate(-90) scale(1.035,1.0)" font-size="9.9" fill="#4D4D4D" color="#4D4D4D" text-anchor="end">50</text>
<line x1="213.5" y1="235.8" x2="213.5" y2="239.1" stroke="#333333" stroke-width="1.1"/>
<text transform="translate(217.54,242.5) rotate(-90) scale(1.035,1.0)" font-size="9.9" fill="#4D4D4D" color="#4D4D4D" text-anchor="end">75</text>
<line x1="229.5" y1="235.8" x2="229.5" y2="239.1" stroke="#333333" stroke-width="1.1"/>
<text transform="translate(233.59,242.5) rotate(-90) scale(1.035,1.0)" font-size="9.9" fill="#4D4D4D" color="#4D4D4D" text-anchor="end">100</text>
<line x1="245.5" y1="235.8" x2="245.5" y2="239.1" stroke="#333333" stroke-width="1.1"/>
<text transform="translate(249.64,242.5) rotate(-90) scale(1.035,1.0)" font-size="9.9" fill="#4D4D4D" color="#4D4D4D" text-anchor="end">125</text>
</g>
<g>
<line x1="286.5" y1="232.48" x2="363.6" y2="232.48" stroke="#EBEBEB" stroke-width="0.6"/>
<line x1="286.5" y1="210.91" x2="363.6" y2="210.91" stroke="#EBEBEB" stroke-width="0.6"/>
<line x1="286.5" y1="188.3" x2="363.6" y2="188.3" stroke="#EBEBEB" stroke-width="0.6"/>
<line x1="286.5" y1="165.69" x2="363.6" y2="165.69" stroke="#EBEBEB" stroke-width="0.6"/>
<line x1="295.38" y1="153.3" x2="295.38" y2="235.8" stroke="#EBEBEB" stroke-width="0.6"/>
<line x1="309.74" y1="153.3" x2="309.74" y2="235.8" stroke="#EBEBEB" stroke-width="0.6"/>
<line x1="324.1" y1="153.3" x2="324.1" y2="235.8" stroke="#EBEBEB" stroke-width="0.6"/>
<line x1="338.46" y1="153.3" x2="338.46" y2="235.8" stroke="#EBEBEB" stroke-width="0.6"/>
<line x1="352.82" y1="153.3" x2="352.82" y2="235.8" stroke="#EBEBEB" stroke-width="0.6"/>
<line x1="286.5" y1="154.9" x2="363.6" y2="154.9" stroke="#EBEBEB" stroke-width="1.2"/>
<line x1="286.5" y1="176.48" x2="363.6" y2="176.48" stroke="#EBEBEB" stroke-width="1.2"/>
<line x1="286.5" y1="200.12" x2="363.6" y2="200.12" stroke="#EBEBEB" stroke-width="1.2"/>
<line x1="286.5" y1="221.7" x2="363.6" y2="221.7" stroke="#EBEBEB" stroke-width="1.2"/>
<line x1="288.2" y1="153.3" x2="288.2" y2="235.8" stroke="#EBEBEB" stroke-width="1.2"/>
<line x1="302.56" y1="153.3" x2="302.56" y2="235.8" stroke="#EBEBEB" stroke-width="1.2"/>
<line x1="316.92" y1="153.3" x2="316.92" y2="235.8" stroke="#EBEBEB" stroke-width="1.2"/>
<line x1="331.28" y1="153.3" x2="331.28" y2="235.8" stroke="#EBEBEB" stroke-width="1.2"/>
<line x1="345.64" y1="153.3" x2="345.64" y2="235.8" stroke="#EBEBEB" stroke-width="1.2"/>
<line x1="360" y1="153.3" x2="360" y2="235.8" stroke="#EBEBEB" stroke-width="1.2"/>
<path d="M289.84,231.8 C289.95,230.33 290.24,225.8 290.48,223 C290.72,220.2 290.96,217.67 291.28,215 C291.6,212.33 291.95,209.4 292.4,207 C292.85,204.6 293.33,202.52 294,200.6 C294.67,198.68 295.47,196.81 296.4,195.48 C297.33,194.15 298.4,193.35 299.6,192.6 C300.8,191.85 301.87,191.4 303.6,191 C305.33,190.6 307.6,190.36 310,190.2 C312.4,190.04 315.65,190.07 318,190.04 C320.35,190.01 323.07,190.04 324.08,190.04" fill="none" stroke="#F4645E" stroke-width="2.05" stroke-linejoin="round"/>
<path d="M289.84,203.48 C289.95,202.2 290.24,198.41 290.48,195.8 C290.72,193.19 290.96,190.33 291.28,187.8 C291.6,185.27 291.95,182.87 292.4,180.6 C292.85,178.33 293.33,176.15 294,174.2 C294.67,172.25 295.47,170.31 296.4,168.92 C297.33,167.53 298.4,166.68 299.6,165.88 C300.8,165.08 301.87,164.57 303.6,164.12 C305.33,163.67 307.87,163.4 310,163.16 C312.13,162.92 314.27,162.79 316.4,162.68 C318.53,162.57 321.73,162.55 322.8,162.52" fill="none" stroke="#00AE30" stroke-width="2.05" stroke-linejoin="round"/>
<path d="M289.84,197.4 C289.95,196.07 290.24,192.07 290.48,189.4 C290.72,186.73 290.96,183.8 291.28,181.4 C291.6,179 291.95,177 292.4,175 C292.85,173 293.33,171.05 294,169.4 C294.67,167.75 295.47,166.23 296.4,165.08 C297.33,163.93 298.4,163.21 299.6,162.52 C300.8,161.83 301.87,161.32 303.6,160.92 C305.33,160.52 307.07,160.31 310,160.12 C312.93,159.93 317.2,159.88 321.2,159.8 C325.2,159.72 327.55,159.72 334,159.64 C340.45,159.56 355.6,159.37 359.92,159.32" fill="none" stroke="#4A8DF7" stroke-width="2.05" stroke-linejoin="round"/>
<line x1="289.6" y1="157.4" x2="359.9" y2="157.4" stroke="#000" stroke-width="1.86" stroke-dasharray="7.43 7.43"/>
<line x1="289.6" y1="194.5" x2="359.9" y2="194.5" stroke="#000" stroke-width="1.86" stroke-dasharray="1.86 5.57"/>
<rect x="286.5" y="153.3" width="77.1" height="82.5" fill="none" stroke="#333333" stroke-width="1.2"/>
<rect x="286.5" y="133.4" width="77.1" height="19.9" fill="#D9D9D9" stroke="#333333" stroke-width="1.2"/>
<text transform="translate(325.05,147.66) scale(0.96,1.1)" font-size="10.3" fill="#1A1A1A" color="#1A1A1A" text-anchor="middle">USA</text>
<line x1="283.2" y1="154.5" x2="286.5" y2="154.5" stroke="#333333" stroke-width="1.1"/>
<text transform="translate(279.7,158.73) scale(0.975,1.08)" font-size="9.9" fill="#4D4D4D" color="#4D4D4D" text-anchor="end">30000</text>
<line x1="283.2" y1="176.5" x2="286.5" y2="176.5" stroke="#333333" stroke-width="1.1"/>
<text transform="translate(279.7,180.31) scale(0.975,1.08)" font-size="9.9" fill="#4D4D4D" color="#4D4D4D" text-anchor="end">10000</text>
<line x1="283.2" y1="200.5" x2="286.5" y2="200.5" stroke="#333333" stroke-width="1.1"/>
<text transform="translate(279.7,203.95) scale(0.975,1.08)" font-size="9.9" fill="#4D4D4D" color="#4D4D4D" text-anchor="end">3000</text>
<line x1="283.2" y1="221.5" x2="286.5" y2="221.5" stroke="#333333" stroke-width="1.1"/>
<text transform="translate(279.7,225.52) scale(0.975,1.08)" font-size="9.9" fill="#4D4D4D" color="#4D4D4D" text-anchor="end">1000</text>
<line x1="288.5" y1="235.8" x2="288.5" y2="239.1" stroke="#333333" stroke-width="1.1"/>
<text transform="translate(292.04,242.5) rotate(-90) scale(1.035,1.0)" font-size="9.9" fill="#4D4D4D" color="#4D4D4D" text-anchor="end">0</text>
<line x1="302.5" y1="235.8" x2="302.5" y2="239.1" stroke="#333333" stroke-width="1.1"/>
<text transform="translate(306.4,242.5) rotate(-90) scale(1.035,1.0)" font-size="9.9" fill="#4D4D4D" color="#4D4D4D" text-anchor="end">100</text>
<line x1="316.5" y1="235.8" x2="316.5" y2="239.1" stroke="#333333" stroke-width="1.1"/>
<text transform="translate(320.76,242.5) rotate(-90) scale(1.035,1.0)" font-size="9.9" fill="#4D4D4D" color="#4D4D4D" text-anchor="end">200</text>
<line x1="331.5" y1="235.8" x2="331.5" y2="239.1" stroke="#333333" stroke-width="1.1"/>
<text transform="translate(335.12,242.5) rotate(-90) scale(1.035,1.0)" font-size="9.9" fill="#4D4D4D" color="#4D4D4D" text-anchor="end">300</text>
<line x1="345.5" y1="235.8" x2="345.5" y2="239.1" stroke="#333333" stroke-width="1.1"/>
<text transform="translate(349.48,242.5) rotate(-90) scale(1.035,1.0)" font-size="9.9" fill="#4D4D4D" color="#4D4D4D" text-anchor="end">400</text>
<line x1="359.5" y1="235.8" x2="359.5" y2="239.1" stroke="#333333" stroke-width="1.1"/>
<text transform="translate(363.84,242.5) rotate(-90) scale(1.035,1.0)" font-size="9.9" fill="#4D4D4D" color="#4D4D4D" text-anchor="end">500</text>
</g>
<g>
<line x1="403.95" y1="234.69" x2="481.05" y2="234.69" stroke="#EBEBEB" stroke-width="0.6"/>
<line x1="403.95" y1="205.34" x2="481.05" y2="205.34" stroke="#EBEBEB" stroke-width="0.6"/>
<line x1="403.95" y1="175.99" x2="481.05" y2="175.99" stroke="#EBEBEB" stroke-width="0.6"/>
<line x1="413.05" y1="153.3" x2="413.05" y2="235.8" stroke="#EBEBEB" stroke-width="0.6"/>
<line x1="427.35" y1="153.3" x2="427.35" y2="235.8" stroke="#EBEBEB" stroke-width="0.6"/>
<line x1="441.65" y1="153.3" x2="441.65" y2="235.8" stroke="#EBEBEB" stroke-width="0.6"/>
<line x1="455.95" y1="153.3" x2="455.95" y2="235.8" stroke="#EBEBEB" stroke-width="0.6"/>
<line x1="470.25" y1="153.3" x2="470.25" y2="235.8" stroke="#EBEBEB" stroke-width="0.6"/>
<line x1="403.95" y1="161.32" x2="481.05" y2="161.32" stroke="#EBEBEB" stroke-width="1.2"/>
<line x1="403.95" y1="190.67" x2="481.05" y2="190.67" stroke="#EBEBEB" stroke-width="1.2"/>
<line x1="403.95" y1="220.02" x2="481.05" y2="220.02" stroke="#EBEBEB" stroke-width="1.2"/>
<line x1="405.9" y1="153.3" x2="405.9" y2="235.8" stroke="#EBEBEB" stroke-width="1.2"/>
<line x1="420.2" y1="153.3" x2="420.2" y2="235.8" stroke="#EBEBEB" stroke-width="1.2"/>
<line x1="434.5" y1="153.3" x2="434.5" y2="235.8" stroke="#EBEBEB" stroke-width="1.2"/>
<line x1="448.8" y1="153.3" x2="448.8" y2="235.8" stroke="#EBEBEB" stroke-width="1.2"/>
<line x1="463.1" y1="153.3" x2="463.1" y2="235.8" stroke="#EBEBEB" stroke-width="1.2"/>
<line x1="477.4" y1="153.3" x2="477.4" y2="235.8" stroke="#EBEBEB" stroke-width="1.2"/>
<path d="M407,203.8 C407.13,202.47 407.45,198.33 407.8,195.8 C408.15,193.27 408.55,190.87 409.08,188.6 C409.61,186.33 410.28,184.2 411,182.2 C411.72,180.2 412.47,178.2 413.4,176.6 C414.33,175 415.4,173.8 416.6,172.6 C417.8,171.4 419.13,170.39 420.6,169.4 C422.07,168.41 423.53,167.48 425.4,166.68 C427.27,165.88 428.87,165.21 431.8,164.6 C434.73,163.99 438.47,163.4 443,163 C447.53,162.6 453.27,162.41 459,162.2 C464.73,161.99 474.33,161.8 477.4,161.72" fill="none" stroke="#F4645E" stroke-width="2.05" stroke-linejoin="round"/>
<path d="M407,196.6 C407.13,195.13 407.45,190.47 407.8,187.8 C408.15,185.13 408.55,182.73 409.08,180.6 C409.61,178.47 410.28,176.73 411,175 C411.72,173.27 412.47,171.59 413.4,170.2 C414.33,168.81 415.4,167.75 416.6,166.68 C417.8,165.61 419.13,164.68 420.6,163.8 C422.07,162.92 423.53,162.07 425.4,161.4 C427.27,160.73 428.87,160.28 431.8,159.8 C434.73,159.32 438.47,158.87 443,158.52 C447.53,158.17 453.27,157.91 459,157.72 C464.73,157.53 474.33,157.45 477.4,157.4" fill="none" stroke="#4A8DF7" stroke-width="2.05" stroke-linejoin="round"/>
<line x1="407" y1="195.5" x2="477.4" y2="195.5" stroke="#000" stroke-width="1.86" stroke-dasharray="7.43 7.43"/>
<line x1="407" y1="232.3" x2="477.4" y2="232.3" stroke="#000" stroke-width="1.86" stroke-dasharray="1.86 5.57"/>
<rect x="403.95" y="153.3" width="77.1" height="82.5" fill="none" stroke="#333333" stroke-width="1.2"/>
<rect x="403.95" y="133.4" width="77.1" height="19.9" fill="#D9D9D9" stroke="#333333" stroke-width="1.2"/>
<text transform="translate(442.5,147.66) scale(0.96,1.1)" font-size="10.3" fill="#1A1A1A" color="#1A1A1A" text-anchor="middle">XAF</text>
<line x1="400.65" y1="161.5" x2="403.95" y2="161.5" stroke="#333333" stroke-width="1.1"/>
<text transform="translate(397.15,165.14) scale(0.975,1.08)" font-size="9.9" fill="#4D4D4D" color="#4D4D4D" text-anchor="end">1e+05</text>
<line x1="400.65" y1="190.5" x2="403.95" y2="190.5" stroke="#333333" stroke-width="1.1"/>
<text transform="translate(397.15,194.49) scale(0.975,1.08)" font-size="9.9" fill="#4D4D4D" color="#4D4D4D" text-anchor="end">1e+04</text>
<line x1="400.65" y1="220.5" x2="403.95" y2="220.5" stroke="#333333" stroke-width="1.1"/>
<text transform="translate(397.15,223.84) scale(0.975,1.08)" font-size="9.9" fill="#4D4D4D" color="#4D4D4D" text-anchor="end">1e+03</text>
<line x1="405.5" y1="235.8" x2="405.5" y2="239.1" stroke="#333333" stroke-width="1.1"/>
<text transform="translate(409.74,242.5) rotate(-90) scale(1.035,1.0)" font-size="9.9" fill="#4D4D4D" color="#4D4D4D" text-anchor="end">0</text>
<line x1="420.5" y1="235.8" x2="420.5" y2="239.1" stroke="#333333" stroke-width="1.1"/>
<text transform="translate(424.04,242.5) rotate(-90) scale(1.035,1.0)" font-size="9.9" fill="#4D4D4D" color="#4D4D4D" text-anchor="end">100</text>
<line x1="434.5" y1="235.8" x2="434.5" y2="239.1" stroke="#333333" stroke-width="1.1"/>
<text transform="translate(438.34,242.5) rotate(-90) scale(1.035,1.0)" font-size="9.9" fill="#4D4D4D" color="#4D4D4D" text-anchor="end">200</text>
<line x1="448.5" y1="235.8" x2="448.5" y2="239.1" stroke="#333333" stroke-width="1.1"/>
<text transform="translate(452.64,242.5) rotate(-90) scale(1.035,1.0)" font-size="9.9" fill="#4D4D4D" color="#4D4D4D" text-anchor="end">300</text>
<line x1="463.5" y1="235.8" x2="463.5" y2="239.1" stroke="#333333" stroke-width="1.1"/>
<text transform="translate(466.94,242.5) rotate(-90) scale(1.035,1.0)" font-size="9.9" fill="#4D4D4D" color="#4D4D4D" text-anchor="end">400</text>
<line x1="477.5" y1="235.8" x2="477.5" y2="239.1" stroke="#333333" stroke-width="1.1"/>
<text transform="translate(481.24,242.5) rotate(-90) scale(1.035,1.0)" font-size="9.9" fill="#4D4D4D" color="#4D4D4D" text-anchor="end">500</text>
</g>
<g>
<line x1="521.5" y1="213.5" x2="598.6" y2="213.5" stroke="#EBEBEB" stroke-width="0.6"/>
<line x1="521.5" y1="180.9" x2="598.6" y2="180.9" stroke="#EBEBEB" stroke-width="0.6"/>
<line x1="534.97" y1="153.3" x2="534.97" y2="235.8" stroke="#EBEBEB" stroke-width="0.6"/>
<line x1="561.12" y1="153.3" x2="561.12" y2="235.8" stroke="#EBEBEB" stroke-width="0.6"/>
<line x1="587.27" y1="153.3" x2="587.27" y2="235.8" stroke="#EBEBEB" stroke-width="0.6"/>
<line x1="521.5" y1="164.6" x2="598.6" y2="164.6" stroke="#EBEBEB" stroke-width="1.2"/>
<line x1="521.5" y1="197.2" x2="598.6" y2="197.2" stroke="#EBEBEB" stroke-width="1.2"/>
<line x1="521.5" y1="229.8" x2="598.6" y2="229.8" stroke="#EBEBEB" stroke-width="1.2"/>
<line x1="521.9" y1="153.3" x2="521.9" y2="235.8" stroke="#EBEBEB" stroke-width="1.2"/>
<line x1="548.05" y1="153.3" x2="548.05" y2="235.8" stroke="#EBEBEB" stroke-width="1.2"/>
<line x1="574.2" y1="153.3" x2="574.2" y2="235.8" stroke="#EBEBEB" stroke-width="1.2"/>
<path d="M524.8,231.8 C525.07,231.4 525.73,230.07 526.4,229.4 C527.07,228.73 527.73,228.17 528.8,227.8 C529.87,227.43 531.07,227.29 532.8,227.16 C534.53,227.03 536.75,227.05 539.2,227 C541.65,226.95 546.13,226.87 547.52,226.84" fill="none" stroke="#F4645E" stroke-width="2.05" stroke-linejoin="round"/>
<path d="M524.8,203 C525.01,202.33 525.55,200.12 526.08,199 C526.61,197.88 527.15,197.08 528,196.28 C528.85,195.48 529.87,194.73 531.2,194.2 C532.53,193.67 533.87,193.35 536,193.08 C538.13,192.81 541.2,192.71 544,192.6 C546.8,192.49 551.33,192.47 552.8,192.44" fill="none" stroke="#00AE30" stroke-width="2.05" stroke-linejoin="round"/>
<path d="M524.8,185.88 C525.01,185.27 525.55,183.13 526.08,182.2 C526.61,181.27 527.15,180.76 528,180.28 C528.85,179.8 529.87,179.56 531.2,179.32 C532.53,179.08 532.53,178.95 536,178.84 C539.47,178.73 545.33,178.73 552,178.68 C558.67,178.63 568.88,178.6 576,178.52 C583.12,178.44 591.6,178.25 594.72,178.2" fill="none" stroke="#4A8DF7" stroke-width="2.05" stroke-linejoin="round"/>
<line x1="524.8" y1="157.4" x2="594.7" y2="157.4" stroke="#000" stroke-width="1.86" stroke-dasharray="7.43 7.43"/>
<line x1="524.8" y1="183.8" x2="594.7" y2="183.8" stroke="#000" stroke-width="1.86" stroke-dasharray="1.86 5.57"/>
<rect x="521.5" y="153.3" width="77.1" height="82.5" fill="none" stroke="#333333" stroke-width="1.2"/>
<rect x="521.5" y="133.4" width="77.1" height="19.9" fill="#D9D9D9" stroke="#333333" stroke-width="1.2"/>
<text transform="translate(560.05,147.66) scale(0.96,1.1)" font-size="10.3" fill="#1A1A1A" color="#1A1A1A" text-anchor="middle">XE25</text>
<line x1="518.2" y1="164.5" x2="521.5" y2="164.5" stroke="#333333" stroke-width="1.1"/>
<text transform="translate(514.7,168.43) scale(0.975,1.08)" font-size="9.9" fill="#4D4D4D" color="#4D4D4D" text-anchor="end">10000</text>
<line x1="518.2" y1="197.5" x2="521.5" y2="197.5" stroke="#333333" stroke-width="1.1"/>
<text transform="translate(514.7,201.03) scale(0.975,1.08)" font-size="9.9" fill="#4D4D4D" color="#4D4D4D" text-anchor="end">1000</text>
<line x1="518.2" y1="229.5" x2="521.5" y2="229.5" stroke="#333333" stroke-width="1.1"/>
<text transform="translate(514.7,233.63) scale(0.975,1.08)" font-size="9.9" fill="#4D4D4D" color="#4D4D4D" text-anchor="end">100</text>
<line x1="521.5" y1="235.8" x2="521.5" y2="239.1" stroke="#333333" stroke-width="1.1"/>
<text transform="translate(525.74,242.5) rotate(-90) scale(1.035,1.0)" font-size="9.9" fill="#4D4D4D" color="#4D4D4D" text-anchor="end">0</text>
<line x1="548.5" y1="235.8" x2="548.5" y2="239.1" stroke="#333333" stroke-width="1.1"/>
<text transform="translate(551.89,242.5) rotate(-90) scale(1.035,1.0)" font-size="9.9" fill="#4D4D4D" color="#4D4D4D" text-anchor="end">100</text>
<line x1="574.5" y1="235.8" x2="574.5" y2="239.1" stroke="#333333" stroke-width="1.1"/>
<text transform="translate(578.04,242.5) rotate(-90) scale(1.035,1.0)" font-size="9.9" fill="#4D4D4D" color="#4D4D4D" text-anchor="end">200</text>
</g>
<g>
<line x1="51.4" y1="361.46" x2="128.5" y2="361.46" stroke="#EBEBEB" stroke-width="0.6"/>
<line x1="51.4" y1="344.92" x2="128.5" y2="344.92" stroke="#EBEBEB" stroke-width="0.6"/>
<line x1="51.4" y1="329.1" x2="128.5" y2="329.1" stroke="#EBEBEB" stroke-width="0.6"/>
<line x1="51.4" y1="313.28" x2="128.5" y2="313.28" stroke="#EBEBEB" stroke-width="0.6"/>
<line x1="51.4" y1="297.46" x2="128.5" y2="297.46" stroke="#EBEBEB" stroke-width="0.6"/>
<line x1="59.5" y1="284.9" x2="59.5" y2="367.2" stroke="#EBEBEB" stroke-width="0.6"/>
<line x1="74.12" y1="284.9" x2="74.12" y2="367.2" stroke="#EBEBEB" stroke-width="0.6"/>
<line x1="88.75" y1="284.9" x2="88.75" y2="367.2" stroke="#EBEBEB" stroke-width="0.6"/>
<line x1="103.38" y1="284.9" x2="103.38" y2="367.2" stroke="#EBEBEB" stroke-width="0.6"/>
<line x1="118" y1="284.9" x2="118" y2="367.2" stroke="#EBEBEB" stroke-width="0.6"/>
<line x1="51.4" y1="289.91" x2="128.5" y2="289.91" stroke="#EBEBEB" stroke-width="1.2"/>
<line x1="51.4" y1="305.01" x2="128.5" y2="305.01" stroke="#EBEBEB" stroke-width="1.2"/>
<line x1="51.4" y1="321.55" x2="128.5" y2="321.55" stroke="#EBEBEB" stroke-width="1.2"/>
<line x1="51.4" y1="336.65" x2="128.5" y2="336.65" stroke="#EBEBEB" stroke-width="1.2"/>
<line x1="51.4" y1="353.19" x2="128.5" y2="353.19" stroke="#EBEBEB" stroke-width="1.2"/>
<line x1="52.19" y1="284.9" x2="52.19" y2="367.2" stroke="#EBEBEB" stroke-width="1.2"/>
<line x1="66.81" y1="284.9" x2="66.81" y2="367.2" stroke="#EBEBEB" stroke-width="1.2"/>
<line x1="81.44" y1="284.9" x2="81.44" y2="367.2" stroke="#EBEBEB" stroke-width="1.2"/>
<line x1="96.06" y1="284.9" x2="96.06" y2="367.2" stroke="#EBEBEB" stroke-width="1.2"/>
<line x1="110.69" y1="284.9" x2="110.69" y2="367.2" stroke="#EBEBEB" stroke-width="1.2"/>
<line x1="125.31" y1="284.9" x2="125.31" y2="367.2" stroke="#EBEBEB" stroke-width="1.2"/>
<path d="M54.8,363.32 C55.01,362.87 55.6,361.51 56.08,360.6 C56.56,359.69 57.09,358.52 57.68,357.88 C58.27,357.24 58.75,357.03 59.6,356.76 C60.45,356.49 61.2,356.39 62.8,356.28 C64.4,356.17 67.2,356.15 69.2,356.12 C71.2,356.09 73.87,356.12 74.8,356.12" fill="none" stroke="#F4645E" stroke-width="2.05" stroke-linejoin="round"/>
<path d="M54.8,351.48 C55.01,350.87 55.6,348.95 56.08,347.8 C56.56,346.65 57.09,345.35 57.68,344.6 C58.27,343.85 58.75,343.64 59.6,343.32 C60.45,343 61.2,342.81 62.8,342.68 C64.4,342.55 66.21,342.57 69.2,342.52 C72.19,342.47 78.8,342.39 80.72,342.36" fill="none" stroke="#00AE30" stroke-width="2.05" stroke-linejoin="round"/>
<path d="M54.8,310.2 C55.01,309.4 55.6,306.79 56.08,305.4 C56.56,304.01 57.09,302.84 57.68,301.88 C58.27,300.92 58.75,300.2 59.6,299.64 C60.45,299.08 61.2,298.73 62.8,298.52 C64.4,298.31 66,298.41 69.2,298.36 C72.4,298.31 77.2,298.23 82,298.2 C86.8,298.17 90.88,298.2 98,298.2 C105.12,298.2 120.27,298.2 124.72,298.2" fill="none" stroke="#4A8DF7" stroke-width="2.05" stroke-linejoin="round"/>
<line x1="54.8" y1="288.9" x2="124.7" y2="288.9" stroke="#000" stroke-width="1.86" stroke-dasharray="7.43 7.43"/>
<line x1="54.8" y1="314.2" x2="124.7" y2="314.2" stroke="#000" stroke-width="1.86" stroke-dasharray="1.86 5.57"/>
<rect x="51.4" y="284.9" width="77.1" height="82.3" fill="none" stroke="#333333" stroke-width="1.2"/>
<rect x="51.4" y="265.2" width="77.1" height="19.7" fill="#D9D9D9" stroke="#333333" stroke-width="1.2"/>
<text transform="translate(89.95,279.36) scale(0.96,1.1)" font-size="10.3" fill="#1A1A1A" color="#1A1A1A" text-anchor="middle">XER</text>
<line x1="48.1" y1="289.5" x2="51.4" y2="289.5" stroke="#333333" stroke-width="1.1"/>
<text transform="translate(44.6,293.74) scale(0.975,1.08)" font-size="9.9" fill="#4D4D4D" color="#4D4D4D" text-anchor="end">3000</text>
<line x1="48.1" y1="305.5" x2="51.4" y2="305.5" stroke="#333333" stroke-width="1.1"/>
<text transform="translate(44.6,308.83) scale(0.975,1.08)" font-size="9.9" fill="#4D4D4D" color="#4D4D4D" text-anchor="end">1000</text>
<line x1="48.1" y1="321.5" x2="51.4" y2="321.5" stroke="#333333" stroke-width="1.1"/>
<text transform="translate(44.6,325.38) scale(0.975,1.08)" font-size="9.9" fill="#4D4D4D" color="#4D4D4D" text-anchor="end">300</text>
<line x1="48.1" y1="336.5" x2="51.4" y2="336.5" stroke="#333333" stroke-width="1.1"/>
<text transform="translate(44.6,340.47) scale(0.975,1.08)" font-size="9.9" fill="#4D4D4D" color="#4D4D4D" text-anchor="end">100</text>
<line x1="48.1" y1="353.5" x2="51.4" y2="353.5" stroke="#333333" stroke-width="1.1"/>
<text transform="translate(44.6,357.02) scale(0.975,1.08)" font-size="9.9" fill="#4D4D4D" color="#4D4D4D" text-anchor="end">30</text>
<line x1="52.5" y1="367.2" x2="52.5" y2="370.5" stroke="#333333" stroke-width="1.1"/>
<text transform="translate(56.03,373.9) rotate(-90) scale(1.035,1.0)" font-size="9.9" fill="#4D4D4D" color="#4D4D4D" text-anchor="end">0</text>
<line x1="66.5" y1="367.2" x2="66.5" y2="370.5" stroke="#333333" stroke-width="1.1"/>
<text transform="translate(70.66,373.9) rotate(-90) scale(1.035,1.0)" font-size="9.9" fill="#4D4D4D" color="#4D4D4D" text-anchor="end">50</text>
<line x1="81.5" y1="367.2" x2="81.5" y2="370.5" stroke="#333333" stroke-width="1.1"/>
<text transform="translate(85.28,373.9) rotate(-90) scale(1.035,1.0)" font-size="9.9" fill="#4D4D4D" color="#4D4D4D" text-anchor="end">100</text>
<line x1="96.5" y1="367.2" x2="96.5" y2="370.5" stroke="#333333" stroke-width="1.1"/>
<text transform="translate(99.91,373.9) rotate(-90) scale(1.035,1.0)" font-size="9.9" fill="#4D4D4D" color="#4D4D4D" text-anchor="end">150</text>
<line x1="110.5" y1="367.2" x2="110.5" y2="370.5" stroke="#333333" stroke-width="1.1"/>
<text transform="translate(114.53,373.9) rotate(-90) scale(1.035,1.0)" font-size="9.9" fill="#4D4D4D" color="#4D4D4D" text-anchor="end">200</text>
<line x1="125.5" y1="367.2" x2="125.5" y2="370.5" stroke="#333333" stroke-width="1.1"/>
<text transform="translate(129.16,373.9) rotate(-90) scale(1.035,1.0)" font-size="9.9" fill="#4D4D4D" color="#4D4D4D" text-anchor="end">250</text>
</g>
<g>
<line x1="169" y1="349.23" x2="246.1" y2="349.23" stroke="#EBEBEB" stroke-width="0.6"/>
<line x1="169" y1="325.92" x2="246.1" y2="325.92" stroke="#EBEBEB" stroke-width="0.6"/>
<line x1="169" y1="302.62" x2="246.1" y2="302.62" stroke="#EBEBEB" stroke-width="0.6"/>
<line x1="178.05" y1="284.9" x2="178.05" y2="367.2" stroke="#EBEBEB" stroke-width="0.6"/>
<line x1="192.35" y1="284.9" x2="192.35" y2="367.2" stroke="#EBEBEB" stroke-width="0.6"/>
<line x1="206.65" y1="284.9" x2="206.65" y2="367.2" stroke="#EBEBEB" stroke-width="0.6"/>
<line x1="220.95" y1="284.9" x2="220.95" y2="367.2" stroke="#EBEBEB" stroke-width="0.6"/>
<line x1="235.25" y1="284.9" x2="235.25" y2="367.2" stroke="#EBEBEB" stroke-width="0.6"/>
<line x1="169" y1="291.5" x2="246.1" y2="291.5" stroke="#EBEBEB" stroke-width="1.2"/>
<line x1="169" y1="313.74" x2="246.1" y2="313.74" stroke="#EBEBEB" stroke-width="1.2"/>
<line x1="169" y1="338.11" x2="246.1" y2="338.11" stroke="#EBEBEB" stroke-width="1.2"/>
<line x1="169" y1="360.35" x2="246.1" y2="360.35" stroke="#EBEBEB" stroke-width="1.2"/>
<line x1="170.9" y1="284.9" x2="170.9" y2="367.2" stroke="#EBEBEB" stroke-width="1.2"/>
<line x1="185.2" y1="284.9" x2="185.2" y2="367.2" stroke="#EBEBEB" stroke-width="1.2"/>
<line x1="199.5" y1="284.9" x2="199.5" y2="367.2" stroke="#EBEBEB" stroke-width="1.2"/>
<line x1="213.8" y1="284.9" x2="213.8" y2="367.2" stroke="#EBEBEB" stroke-width="1.2"/>
<line x1="228.1" y1="284.9" x2="228.1" y2="367.2" stroke="#EBEBEB" stroke-width="1.2"/>
<line x1="242.4" y1="284.9" x2="242.4" y2="367.2" stroke="#EBEBEB" stroke-width="1.2"/>
<path d="M172.1,359.96 L172.13,359.72 L172.16,359.42 L172.2,359.06 L172.24,358.66 L172.28,358.2 L172.33,357.7 L172.38,357.17 L172.43,356.59 L172.49,355.99 L172.56,355.37 L172.63,354.72 L172.71,354.08 L172.71,354.06 L172.79,353.38 L172.89,352.59 L172.99,351.72 L173.1,350.77 L173.22,349.76 L173.32,348.91 L173.34,348.7 L173.49,347.61 L173.64,346.49 L173.81,345.29 L173.93,344.4 L173.99,344.01 L174.18,342.66 L174.4,341.24 L174.54,340.3 L174.63,339.69 L174.89,338.01 L175.15,336.36 L175.16,336.3 L175.46,334.67 L175.77,333.22 L175.79,333.09 L176.15,331.54 L176.38,330.63 L176.54,330.03 L176.96,328.57 L176.99,328.48 L177.42,327.15 L177.6,326.62 L177.92,325.77 L178.21,325.04 L178.46,324.48 L178.82,323.76 L179.05,323.35 L179.43,322.71 L179.69,322.31 L180.05,321.82 L180.39,321.39 L180.66,321.1 L181.16,320.62 L181.27,320.52 L181.88,320.03 L181.98,319.96 L182.49,319.62 L182.89,319.38 L183.1,319.26 L183.72,318.96 L183.87,318.9 L184.33,318.71 L184.93,318.48 L184.94,318.48 L185.55,318.28 L186.1,318.12 L186.16,318.11 L186.77,317.98 L187.36,317.88 L187.38,317.88 L188,317.8 L188.61,317.73 L188.74,317.72 L189.22,317.67 L189.83,317.62 L190.23,317.58 L190.44,317.56 L191.05,317.51 L191.67,317.46 L191.86,317.44 L192.28,317.41 L192.89,317.36 L193.5,317.32 L193.63,317.31 L194.11,317.27 L194.72,317.23 L195.34,317.2 L195.56,317.18 L195.95,317.16 L196.56,317.13 L197.17,317.11 L197.65,317.09 L197.78,317.08 L198.39,317.06 L199,317.04 L199.62,317.03 L199.94,317.02 L200.23,317.01 L200.84,316.99 L201.45,316.98 L202.06,316.97 L202.42,316.96 L202.67,316.95 L203.29,316.94 L203.9,316.93 L204.51,316.93 L205.12,316.92" fill="none" stroke="#F4645E" stroke-width="2.05" stroke-linejoin="round"/>
<path d="M172,339.8 L172.04,339.49 L172.08,339.08 L172.12,338.59 L172.17,338.01 L172.22,337.37 L172.28,336.68 L172.35,335.93 L172.42,335.15 L172.5,334.34 L172.59,333.37 L172.68,332.24 L172.79,330.98 L172.91,329.66 L173.04,328.32 L173.18,327.01 L173.3,326.02 L173.34,325.78 L173.51,324.62 L173.7,323.37 L173.92,321.94 L174.15,320.32 L174.41,318.46 L174.61,316.83 L174.69,316.07 L175.01,313.44 L175.36,311.22 L175.74,309.29 L175.91,308.52 L176.16,307.52 L176.63,305.87 L177.14,304.28 L177.21,304.07 L177.71,302.79 L178.33,301.43 L178.52,301.08 L179.02,300.25 L179.79,299.2 L179.82,299.15 L180.63,298.24 L181.13,297.75 L181.55,297.36 L182.43,296.63 L182.58,296.52 L183.71,295.7 L183.73,295.68 L184.95,294.91 L185.04,294.86 L186.32,294.17 L186.34,294.17 L187.64,293.59 L187.84,293.51 L188.95,293.13 L189.51,292.95 L190.25,292.73 L191.36,292.44 L191.56,292.39 L192.86,292.1 L193.39,292 L194.16,291.86 L195.47,291.67 L195.64,291.65 L196.77,291.5 L198.07,291.35 L198.12,291.35 L199.38,291.22 L200.68,291.12 L200.85,291.1 L201.99,291.03 L203.29,290.96 L203.87,290.94 L204.59,290.91 L205.9,290.86 L207.2,290.82 L207.2,290.82 L208.5,290.78 L209.81,290.76 L210.87,290.75 L211.11,290.75 L212.41,290.73 L213.72,290.72 L214.93,290.71 L215.02,290.71 L216.33,290.7 L217.63,290.7 L218.93,290.69 L219.4,290.69 L220.24,290.69 L221.54,290.68 L222.84,290.68 L224.15,290.68 L224.33,290.68 L225.45,290.68 L226.76,290.68 L228.06,290.68 L229.36,290.68 L229.77,290.68 L230.67,290.68 L231.97,290.68 L233.27,290.68 L234.58,290.68 L235.78,290.68 L235.88,290.68 L237.19,290.68 L238.49,290.68 L239.79,290.68 L241.1,290.68 L242.4,290.68 L242.4,290.68" fill="none" stroke="#00AE30" stroke-width="2.05" stroke-linejoin="round"/>
<path d="M172,338.2 L172.04,337.88 L172.08,337.48 L172.12,337.03 L172.17,336.51 L172.22,335.96 L172.28,335.37 L172.35,334.75 L172.42,334.05 L172.5,333.26 L172.59,332.37 L172.68,331.34 L172.79,330.04 L172.91,328.55 L173.04,327 L173.18,325.49 L173.3,324.41 L173.34,324.16 L173.51,322.99 L173.7,321.77 L173.92,320.34 L174.15,318.72 L174.41,316.86 L174.61,315.23 L174.69,314.48 L175.01,311.86 L175.36,309.59 L175.74,307.55 L175.91,306.74 L176.16,305.68 L176.63,304.02 L177.14,302.52 L177.21,302.32 L177.71,301.14 L178.33,299.85 L178.52,299.5 L179.02,298.62 L179.79,297.43 L179.82,297.38 L180.63,296.31 L181.13,295.73 L181.55,295.29 L182.43,294.51 L182.58,294.39 L183.71,293.58 L183.73,293.57 L184.95,292.85 L185.04,292.8 L186.32,292.17 L186.34,292.17 L187.64,291.61 L187.84,291.53 L188.95,291.11 L189.51,290.92 L190.25,290.69 L191.36,290.4 L191.56,290.35 L192.86,290.1 L193.39,290.01 L194.16,289.9 L195.47,289.73 L195.64,289.71 L196.77,289.58 L198.07,289.46 L198.12,289.45 L199.38,289.35 L200.68,289.26 L200.85,289.25 L201.99,289.17 L203.29,289.09 L203.87,289.05 L204.59,289.01 L205.9,288.95 L207.2,288.9 L207.2,288.9 L208.5,288.87 L209.81,288.84 L210.87,288.83 L211.11,288.83 L212.41,288.81 L213.72,288.8 L214.93,288.79 L215.02,288.79 L216.33,288.78 L217.63,288.78 L218.93,288.77 L219.4,288.77 L220.24,288.77 L221.54,288.76 L222.84,288.76 L224.15,288.76 L224.33,288.76 L225.45,288.76 L226.76,288.76 L228.06,288.76 L229.36,288.76 L229.77,288.76 L230.67,288.76 L231.97,288.76 L233.27,288.76 L234.58,288.76 L235.78,288.76 L235.88,288.76 L237.19,288.76 L238.49,288.76 L239.79,288.76 L241.1,288.76 L242.4,288.76 L242.4,288.76" fill="none" stroke="#4A8DF7" stroke-width="2.05" stroke-linejoin="round"/>
<line x1="172" y1="323" x2="242.4" y2="323" stroke="#000" stroke-width="1.86" stroke-dasharray="7.43 7.43"/>
<line x1="172" y1="363.8" x2="242.4" y2="363.8" stroke="#000" stroke-width="1.86" stroke-dasharray="1.86 5.57"/>
<rect x="169" y="284.9" width="77.1" height="82.3" fill="none" stroke="#333333" stroke-width="1.2"/>
<rect x="169" y="265.2" width="77.1" height="19.7" fill="#D9D9D9" stroke="#333333" stroke-width="1.2"/>
<text transform="translate(207.55,279.36) scale(0.96,1.1)" font-size="10.3" fill="#1A1A1A" color="#1A1A1A" text-anchor="middle">XLM</text>
<line x1="165.7" y1="291.5" x2="169" y2="291.5" stroke="#333333" stroke-width="1.1"/>
<text transform="translate(162.2,295.33) scale(0.975,1.08)" font-size="9.9" fill="#4D4D4D" color="#4D4D4D" text-anchor="end">30000</text>
<line x1="165.7" y1="313.5" x2="169" y2="313.5" stroke="#333333" stroke-width="1.1"/>
<text transform="translate(162.2,317.57) scale(0.975,1.08)" font-size="9.9" fill="#4D4D4D" color="#4D4D4D" text-anchor="end">10000</text>
<line x1="165.7" y1="338.5" x2="169" y2="338.5" stroke="#333333" stroke-width="1.1"/>
<text transform="translate(162.2,341.94) scale(0.975,1.08)" font-size="9.9" fill="#4D4D4D" color="#4D4D4D" text-anchor="end">3000</text>
<line x1="165.7" y1="360.5" x2="169" y2="360.5" stroke="#333333" stroke-width="1.1"/>
<text transform="translate(162.2,364.18) scale(0.975,1.08)" font-size="9.9" fill="#4D4D4D" color="#4D4D4D" text-anchor="end">1000</text>
<line x1="170.5" y1="367.2" x2="170.5" y2="370.5" stroke="#333333" stroke-width="1.1"/>
<text transform="translate(174.74,373.9) rotate(-90) scale(1.035,1.0)" font-size="9.9" fill="#4D4D4D" color="#4D4D4D" text-anchor="end">0</text>
<line x1="185.5" y1="367.2" x2="185.5" y2="370.5" stroke="#333333" stroke-width="1.1"/>
<text transform="translate(189.04,373.9) rotate(-90) scale(1.035,1.0)" font-size="9.9" fill="#4D4D4D" color="#4D4D4D" text-anchor="end">100</text>
<line x1="199.5" y1="367.2" x2="199.5" y2="370.5" stroke="#333333" stroke-width="1.1"/>
<text transform="translate(203.34,373.9) rotate(-90) scale(1.035,1.0)" font-size="9.9" fill="#4D4D4D" color="#4D4D4D" text-anchor="end">200</text>
<line x1="213.5" y1="367.2" x2="213.5" y2="370.5" stroke="#333333" stroke-width="1.1"/>
<text transform="translate(217.64,373.9) rotate(-90) scale(1.035,1.0)" font-size="9.9" fill="#4D4D4D" color="#4D4D4D" text-anchor="end">300</text>
<line x1="228.5" y1="367.2" x2="228.5" y2="370.5" stroke="#333333" stroke-width="1.1"/>
<text transform="translate(231.94,373.9) rotate(-90) scale(1.035,1.0)" font-size="9.9" fill="#4D4D4D" color="#4D4D4D" text-anchor="end">400</text>
<line x1="242.5" y1="367.2" x2="242.5" y2="370.5" stroke="#333333" stroke-width="1.1"/>
<text transform="translate(246.24,373.9) rotate(-90) scale(1.035,1.0)" font-size="9.9" fill="#4D4D4D" color="#4D4D4D" text-anchor="end">500</text>
</g>
<g>
<line x1="286.5" y1="348.46" x2="363.6" y2="348.46" stroke="#EBEBEB" stroke-width="0.6"/>
<line x1="286.5" y1="318.21" x2="363.6" y2="318.21" stroke="#EBEBEB" stroke-width="0.6"/>
<line x1="286.5" y1="287.96" x2="363.6" y2="287.96" stroke="#EBEBEB" stroke-width="0.6"/>
<line x1="295.8" y1="284.9" x2="295.8" y2="367.2" stroke="#EBEBEB" stroke-width="0.6"/>
<line x1="311.4" y1="284.9" x2="311.4" y2="367.2" stroke="#EBEBEB" stroke-width="0.6"/>
<line x1="327" y1="284.9" x2="327" y2="367.2" stroke="#EBEBEB" stroke-width="0.6"/>
<line x1="342.6" y1="284.9" x2="342.6" y2="367.2" stroke="#EBEBEB" stroke-width="0.6"/>
<line x1="358.2" y1="284.9" x2="358.2" y2="367.2" stroke="#EBEBEB" stroke-width="0.6"/>
<line x1="286.5" y1="302.39" x2="363.6" y2="302.39" stroke="#EBEBEB" stroke-width="1.2"/>
<line x1="286.5" y1="334.02" x2="363.6" y2="334.02" stroke="#EBEBEB" stroke-width="1.2"/>
<line x1="286.5" y1="362.89" x2="363.6" y2="362.89" stroke="#EBEBEB" stroke-width="1.2"/>
<line x1="288" y1="284.9" x2="288" y2="367.2" stroke="#EBEBEB" stroke-width="1.2"/>
<line x1="303.6" y1="284.9" x2="303.6" y2="367.2" stroke="#EBEBEB" stroke-width="1.2"/>
<line x1="319.2" y1="284.9" x2="319.2" y2="367.2" stroke="#EBEBEB" stroke-width="1.2"/>
<line x1="334.8" y1="284.9" x2="334.8" y2="367.2" stroke="#EBEBEB" stroke-width="1.2"/>
<line x1="350.4" y1="284.9" x2="350.4" y2="367.2" stroke="#EBEBEB" stroke-width="1.2"/>
<path d="M289.44,359.22 L289.48,359.15 L289.52,358.95 L289.56,358.62 L289.61,358.18 L289.66,357.63 L289.72,356.99 L289.79,356.27 L289.86,355.48 L289.94,354.63 L290.02,353.72 L290.12,352.78 L290.23,351.81 L290.35,350.81 L290.47,349.69 L290.62,348.26 L290.74,346.97 L290.78,346.58 L290.95,344.71 L291.14,342.74 L291.35,340.72 L291.59,338.69 L291.85,336.44 L292.04,334.81 L292.13,334.07 L292.44,331.76 L292.79,329.68 L293.17,327.56 L293.34,326.53 L293.59,324.89 L294.06,322.18 L294.57,319.95 L294.64,319.69 L295.14,317.96 L295.76,316.06 L295.94,315.56 L296.45,314.19 L297.21,312.41 L297.24,312.35 L298.05,310.78 L298.53,309.94 L298.97,309.26 L299.83,308.03 L299.99,307.82 L301.12,306.46 L301.13,306.44 L302.36,305.17 L302.43,305.1 L303.73,303.88 L303.73,303.87 L305.03,302.74 L305.24,302.57 L306.33,301.73 L306.91,301.33 L307.63,300.84 L308.75,300.15 L308.93,300.04 L310.23,299.32 L310.78,299.04 L311.53,298.68 L312.83,298.1 L313.02,298.02 L314.13,297.58 L315.43,297.11 L315.49,297.09 L316.72,296.69 L318.02,296.33 L318.21,296.29 L319.32,296.01 L320.62,295.7 L321.22,295.56 L321.92,295.38 L323.22,295.05 L324.52,294.74 L324.54,294.73 L325.82,294.46 L327.12,294.23 L328.19,294.05 L328.42,294.02 L329.72,293.83 L331.02,293.65 L332.23,293.51 L332.32,293.5 L333.61,293.37 L334.91,293.26 L336.21,293.18 L336.69,293.15 L337.51,293.11 L338.81,293.05 L340.11,292.99 L341.41,292.95 L341.6,292.95 L342.71,292.92 L344.01,292.9 L345.31,292.88 L346.61,292.86 L347.02,292.86 L347.91,292.85 L349.21,292.84 L350.51,292.84 L351.8,292.84 L353,292.85 L353.1,292.85 L354.4,292.86 L355.7,292.87 L357,292.88 L358.3,292.9 L359.6,292.92" fill="none" stroke="#F4645E" stroke-width="2.05" stroke-linejoin="round"/>
<path d="M289.9,345.94 L289.94,345.85 L289.98,345.6 L290.02,345.18 L290.07,344.62 L290.13,343.93 L290.18,343.13 L290.25,342.21 L290.32,341.21 L290.4,340.13 L290.49,338.98 L290.58,337.78 L290.69,336.54 L290.81,334.76 L290.94,332.36 L291.08,329.89 L291.19,328.34 L291.24,327.89 L291.41,326.29 L291.6,324.85 L291.81,323.49 L292.05,322.13 L292.3,320.71 L292.49,319.72 L292.59,319.19 L292.9,317.66 L293.24,316.12 L293.62,314.61 L293.78,314.05 L294.04,313.11 L294.51,311.63 L295.02,310.2 L295.07,310.07 L295.58,308.83 L296.2,307.5 L296.36,307.19 L296.89,306.21 L297.64,304.93 L297.65,304.92 L298.48,303.69 L298.94,303.08 L299.4,302.52 L300.23,301.61 L300.41,301.43 L301.52,300.38 L301.53,300.37 L302.76,299.34 L302.81,299.3 L304.1,298.36 L304.13,298.34 L305.39,297.5 L305.63,297.35 L306.68,296.7 L307.29,296.34 L307.97,295.94 L309.11,295.33 L309.26,295.25 L310.55,294.65 L311.13,294.4 L311.85,294.12 L313.14,293.65 L313.36,293.57 L314.43,293.21 L315.72,292.79 L315.81,292.76 L317.01,292.39 L318.3,292.01 L318.52,291.95 L319.59,291.65 L320.88,291.32 L321.5,291.17 L322.17,291 L323.46,290.7 L324.75,290.42 L324.8,290.41 L326.04,290.17 L327.33,289.95 L328.43,289.78 L328.62,289.75 L329.91,289.56 L331.21,289.39 L332.44,289.25 L332.5,289.24 L333.79,289.11 L335.08,289.01 L336.37,288.93 L336.86,288.9 L337.66,288.85 L338.95,288.78 L340.24,288.73 L341.53,288.69 L341.74,288.69 L342.82,288.68 L344.11,288.68 L345.4,288.68 L346.69,288.68 L347.12,288.68 L347.98,288.68 L349.27,288.68 L350.57,288.68 L351.86,288.68 L353.05,288.68 L353.15,288.68 L354.44,288.68 L355.73,288.68 L357.02,288.68 L358.31,288.68 L359.6,288.68" fill="none" stroke="#4A8DF7" stroke-width="2.05" stroke-linejoin="round"/>
<line x1="289.7" y1="303.8" x2="359.9" y2="303.8" stroke="#000" stroke-width="1.86" stroke-dasharray="7.43 7.43"/>
<line x1="289.7" y1="363.8" x2="359.9" y2="363.8" stroke="#000" stroke-width="1.86" stroke-dasharray="1.86 5.57"/>
<rect x="286.5" y="284.9" width="77.1" height="82.3" fill="none" stroke="#333333" stroke-width="1.2"/>
<rect x="286.5" y="265.2" width="77.1" height="19.7" fill="#D9D9D9" stroke="#333333" stroke-width="1.2"/>
<text transform="translate(325.05,279.36) scale(0.96,1.1)" font-size="10.3" fill="#1A1A1A" color="#1A1A1A" text-anchor="middle">XME</text>
<line x1="283.2" y1="302.5" x2="286.5" y2="302.5" stroke="#333333" stroke-width="1.1"/>
<text transform="translate(279.7,306.22) scale(0.975,1.08)" font-size="9.9" fill="#4D4D4D" color="#4D4D4D" text-anchor="end">10000</text>
<line x1="283.2" y1="334.5" x2="286.5" y2="334.5" stroke="#333333" stroke-width="1.1"/>
<text transform="translate(279.7,337.85) scale(0.975,1.08)" font-size="9.9" fill="#4D4D4D" color="#4D4D4D" text-anchor="end">3000</text>
<line x1="283.2" y1="362.5" x2="286.5" y2="362.5" stroke="#333333" stroke-width="1.1"/>
<text transform="translate(279.7,366.72) scale(0.975,1.08)" font-size="9.9" fill="#4D4D4D" color="#4D4D4D" text-anchor="end">1000</text>
<line x1="288.5" y1="367.2" x2="288.5" y2="370.5" stroke="#333333" stroke-width="1.1"/>
<text transform="translate(291.84,373.9) rotate(-90) scale(1.035,1.0)" font-size="9.9" fill="#4D4D4D" color="#4D4D4D" text-anchor="end">0</text>
<line x1="303.5" y1="367.2" x2="303.5" y2="370.5" stroke="#333333" stroke-width="1.1"/>
<text transform="translate(307.44,373.9) rotate(-90) scale(1.035,1.0)" font-size="9.9" fill="#4D4D4D" color="#4D4D4D" text-anchor="end">100</text>
<line x1="319.5" y1="367.2" x2="319.5" y2="370.5" stroke="#333333" stroke-width="1.1"/>
<text transform="translate(323.04,373.9) rotate(-90) scale(1.035,1.0)" font-size="9.9" fill="#4D4D4D" color="#4D4D4D" text-anchor="end">200</text>
<line x1="334.5" y1="367.2" x2="334.5" y2="370.5" stroke="#333333" stroke-width="1.1"/>
<text transform="translate(338.64,373.9) rotate(-90) scale(1.035,1.0)" font-size="9.9" fill="#4D4D4D" color="#4D4D4D" text-anchor="end">300</text>
<line x1="350.5" y1="367.2" x2="350.5" y2="370.5" stroke="#333333" stroke-width="1.1"/>
<text transform="translate(354.24,373.9) rotate(-90) scale(1.035,1.0)" font-size="9.9" fill="#4D4D4D" color="#4D4D4D" text-anchor="end">400</text>
</g>
<g>
<line x1="403.95" y1="351.41" x2="481.05" y2="351.41" stroke="#EBEBEB" stroke-width="0.6"/>
<line x1="403.95" y1="329.35" x2="481.05" y2="329.35" stroke="#EBEBEB" stroke-width="0.6"/>
<line x1="403.95" y1="307.29" x2="481.05" y2="307.29" stroke="#EBEBEB" stroke-width="0.6"/>
<line x1="413.05" y1="284.9" x2="413.05" y2="367.2" stroke="#EBEBEB" stroke-width="0.6"/>
<line x1="427.35" y1="284.9" x2="427.35" y2="367.2" stroke="#EBEBEB" stroke-width="0.6"/>
<line x1="441.65" y1="284.9" x2="441.65" y2="367.2" stroke="#EBEBEB" stroke-width="0.6"/>
<line x1="455.95" y1="284.9" x2="455.95" y2="367.2" stroke="#EBEBEB" stroke-width="0.6"/>
<line x1="470.25" y1="284.9" x2="470.25" y2="367.2" stroke="#EBEBEB" stroke-width="0.6"/>
<line x1="403.95" y1="295.75" x2="481.05" y2="295.75" stroke="#EBEBEB" stroke-width="1.2"/>
<line x1="403.95" y1="318.82" x2="481.05" y2="318.82" stroke="#EBEBEB" stroke-width="1.2"/>
<line x1="403.95" y1="339.88" x2="481.05" y2="339.88" stroke="#EBEBEB" stroke-width="1.2"/>
<line x1="403.95" y1="362.95" x2="481.05" y2="362.95" stroke="#EBEBEB" stroke-width="1.2"/>
<line x1="405.9" y1="284.9" x2="405.9" y2="367.2" stroke="#EBEBEB" stroke-width="1.2"/>
<line x1="420.2" y1="284.9" x2="420.2" y2="367.2" stroke="#EBEBEB" stroke-width="1.2"/>
<line x1="434.5" y1="284.9" x2="434.5" y2="367.2" stroke="#EBEBEB" stroke-width="1.2"/>
<line x1="448.8" y1="284.9" x2="448.8" y2="367.2" stroke="#EBEBEB" stroke-width="1.2"/>
<line x1="463.1" y1="284.9" x2="463.1" y2="367.2" stroke="#EBEBEB" stroke-width="1.2"/>
<line x1="477.4" y1="284.9" x2="477.4" y2="367.2" stroke="#EBEBEB" stroke-width="1.2"/>
<path d="M407.4,347.96 L407.44,347.6 L407.48,347.17 L407.52,346.68 L407.57,346.14 L407.62,345.55 L407.68,344.91 L407.75,344.22 L407.82,343.5 L407.9,342.75 L407.98,341.97 L408.08,341.16 L408.19,340.33 L408.3,339.47 L408.43,338.54 L408.58,337.5 L408.69,336.67 L408.73,336.37 L408.91,335.17 L409.1,333.92 L409.31,332.64 L409.54,331.34 L409.8,330.05 L409.98,329.2 L410.08,328.74 L410.39,327.38 L410.74,325.97 L411.12,324.5 L411.27,323.94 L411.54,322.96 L412,321.32 L412.51,319.64 L412.56,319.49 L413.07,317.99 L413.7,316.35 L413.85,315.97 L414.38,314.72 L415.14,313.12 L415.14,313.11 L415.97,311.58 L416.43,310.8 L416.89,310.07 L417.72,308.85 L417.9,308.6 L419.01,307.16 L419.02,307.15 L420.26,305.71 L420.3,305.66 L421.59,304.37 L421.62,304.34 L422.88,303.28 L423.12,303.1 L424.17,302.35 L424.78,301.95 L425.47,301.53 L426.61,300.87 L426.76,300.79 L428.05,300.11 L428.62,299.81 L429.34,299.46 L430.63,298.86 L430.85,298.77 L431.92,298.33 L433.21,297.89 L433.3,297.86 L434.5,297.53 L435.79,297.23 L436.01,297.18 L437.08,296.95 L438.37,296.68 L438.99,296.55 L439.66,296.41 L440.95,296.16 L442.24,295.91 L442.29,295.9 L443.53,295.67 L444.82,295.43 L445.92,295.23 L446.11,295.2 L447.4,294.97 L448.69,294.74 L449.93,294.53 L449.98,294.52 L451.27,294.31 L452.56,294.11 L453.85,293.91 L454.35,293.83 L455.14,293.72 L456.43,293.53 L457.72,293.35 L459.01,293.19 L459.22,293.16 L460.31,293.02 L461.6,292.86 L462.89,292.7 L464.18,292.56 L464.6,292.52 L465.47,292.44 L466.76,292.33 L468.05,292.23 L469.34,292.13 L470.53,292.05 L470.63,292.04 L471.92,291.96 L473.21,291.88 L474.5,291.82 L475.79,291.76 L477.08,291.7 L477.08,291.7" fill="none" stroke="#F4645E" stroke-width="2.05" stroke-linejoin="round"/>
<path d="M407.4,341.4 L407.44,340.89 L407.48,340.31 L407.52,339.66 L407.57,338.94 L407.62,338.16 L407.68,337.34 L407.75,336.46 L407.82,335.55 L407.9,334.6 L407.98,333.61 L408.08,332.48 L408.19,331.2 L408.3,329.82 L408.43,328.39 L408.58,326.97 L408.69,325.96 L408.73,325.61 L408.91,324.37 L409.1,323.25 L409.31,322.19 L409.54,321.17 L409.8,320.17 L409.98,319.5 L410.08,319.15 L410.39,318.09 L410.74,317.01 L411.12,315.91 L411.27,315.5 L411.54,314.8 L412,313.65 L412.51,312.47 L412.56,312.36 L413.07,311.23 L413.7,309.96 L413.85,309.66 L414.38,308.68 L415.14,307.43 L415.14,307.42 L415.97,306.17 L416.43,305.52 L416.89,304.92 L417.72,303.92 L417.9,303.72 L419.01,302.59 L419.02,302.58 L420.26,301.49 L420.3,301.45 L421.59,300.45 L421.62,300.43 L422.88,299.57 L423.12,299.42 L424.17,298.78 L424.78,298.43 L425.47,298.06 L426.61,297.49 L426.76,297.42 L428.05,296.83 L428.62,296.59 L429.34,296.3 L430.63,295.82 L430.85,295.74 L431.92,295.37 L433.21,294.93 L433.3,294.9 L434.5,294.52 L435.79,294.11 L436.01,294.05 L437.08,293.73 L438.37,293.38 L438.99,293.22 L439.66,293.05 L440.95,292.74 L442.24,292.44 L442.29,292.43 L443.53,292.17 L444.82,291.93 L445.92,291.74 L446.11,291.71 L447.4,291.51 L448.69,291.32 L449.93,291.16 L449.98,291.15 L451.27,290.99 L452.56,290.83 L453.85,290.7 L454.35,290.65 L455.14,290.57 L456.43,290.44 L457.72,290.32 L459.01,290.19 L459.22,290.17 L460.31,290.05 L461.6,289.92 L462.89,289.78 L464.18,289.65 L464.6,289.61 L465.47,289.53 L466.76,289.42 L468.05,289.32 L469.34,289.23 L470.53,289.14 L470.63,289.14 L471.92,289.05 L473.21,288.97 L474.5,288.9 L475.79,288.83 L477.08,288.76 L477.08,288.76" fill="none" stroke="#4A8DF7" stroke-width="2.05" stroke-linejoin="round"/>
<line x1="407" y1="324.1" x2="477.4" y2="324.1" stroke="#000" stroke-width="1.86" stroke-dasharray="7.43 7.43"/>
<line x1="407" y1="363.5" x2="477.4" y2="363.5" stroke="#000" stroke-width="1.86" stroke-dasharray="1.86 5.57"/>
<rect x="403.95" y="284.9" width="77.1" height="82.3" fill="none" stroke="#333333" stroke-width="1.2"/>
<rect x="403.95" y="265.2" width="77.1" height="19.7" fill="#D9D9D9" stroke="#333333" stroke-width="1.2"/>
<text transform="translate(442.5,279.36) scale(0.96,1.1)" font-size="10.3" fill="#1A1A1A" color="#1A1A1A" text-anchor="middle">XNF</text>
<line x1="400.65" y1="295.5" x2="403.95" y2="295.5" stroke="#333333" stroke-width="1.1"/>
<text transform="translate(397.15,299.58) scale(0.975,1.08)" font-size="9.9" fill="#4D4D4D" color="#4D4D4D" text-anchor="end">10000</text>
<line x1="400.65" y1="318.5" x2="403.95" y2="318.5" stroke="#333333" stroke-width="1.1"/>
<text transform="translate(397.15,322.65) scale(0.975,1.08)" font-size="9.9" fill="#4D4D4D" color="#4D4D4D" text-anchor="end">3000</text>
<line x1="400.65" y1="339.5" x2="403.95" y2="339.5" stroke="#333333" stroke-width="1.1"/>
<text transform="translate(397.15,343.7) scale(0.975,1.08)" font-size="9.9" fill="#4D4D4D" color="#4D4D4D" text-anchor="end">1000</text>
<line x1="400.65" y1="362.5" x2="403.95" y2="362.5" stroke="#333333" stroke-width="1.1"/>
<text transform="translate(397.15,366.77) scale(0.975,1.08)" font-size="9.9" fill="#4D4D4D" color="#4D4D4D" text-anchor="end">300</text>
<line x1="405.5" y1="367.2" x2="405.5" y2="370.5" stroke="#333333" stroke-width="1.1"/>
<text transform="translate(409.74,373.9) rotate(-90) scale(1.035,1.0)" font-size="9.9" fill="#4D4D4D" color="#4D4D4D" text-anchor="end">0</text>
<line x1="420.5" y1="367.2" x2="420.5" y2="370.5" stroke="#333333" stroke-width="1.1"/>
<text transform="translate(424.04,373.9) rotate(-90) scale(1.035,1.0)" font-size="9.9" fill="#4D4D4D" color="#4D4D4D" text-anchor="end">100</text>
<line x1="434.5" y1="367.2" x2="434.5" y2="370.5" stroke="#333333" stroke-width="1.1"/>
<text transform="translate(438.34,373.9) rotate(-90) scale(1.035,1.0)" font-size="9.9" fill="#4D4D4D" color="#4D4D4D" text-anchor="end">200</text>
<line x1="448.5" y1="367.2" x2="448.5" y2="370.5" stroke="#333333" stroke-width="1.1"/>
<text transform="translate(452.64,373.9) rotate(-90) scale(1.035,1.0)" font-size="9.9" fill="#4D4D4D" color="#4D4D4D" text-anchor="end">300</text>
<line x1="463.5" y1="367.2" x2="463.5" y2="370.5" stroke="#333333" stroke-width="1.1"/>
<text transform="translate(466.94,373.9) rotate(-90) scale(1.035,1.0)" font-size="9.9" fill="#4D4D4D" color="#4D4D4D" text-anchor="end">400</text>
<line x1="477.5" y1="367.2" x2="477.5" y2="370.5" stroke="#333333" stroke-width="1.1"/>
<text transform="translate(481.24,373.9) rotate(-90) scale(1.035,1.0)" font-size="9.9" fill="#4D4D4D" color="#4D4D4D" text-anchor="end">500</text>
</g>
<g>
<line x1="521.5" y1="353.04" x2="598.6" y2="353.04" stroke="#EBEBEB" stroke-width="0.6"/>
<line x1="521.5" y1="336.74" x2="598.6" y2="336.74" stroke="#EBEBEB" stroke-width="0.6"/>
<line x1="521.5" y1="320.43" x2="598.6" y2="320.43" stroke="#EBEBEB" stroke-width="0.6"/>
<line x1="521.5" y1="304.13" x2="598.6" y2="304.13" stroke="#EBEBEB" stroke-width="0.6"/>
<line x1="521.5" y1="287.83" x2="598.6" y2="287.83" stroke="#EBEBEB" stroke-width="0.6"/>
<line x1="530.11" y1="284.9" x2="530.11" y2="367.2" stroke="#EBEBEB" stroke-width="0.6"/>
<line x1="544.53" y1="284.9" x2="544.53" y2="367.2" stroke="#EBEBEB" stroke-width="0.6"/>
<line x1="558.95" y1="284.9" x2="558.95" y2="367.2" stroke="#EBEBEB" stroke-width="0.6"/>
<line x1="573.37" y1="284.9" x2="573.37" y2="367.2" stroke="#EBEBEB" stroke-width="0.6"/>
<line x1="587.79" y1="284.9" x2="587.79" y2="367.2" stroke="#EBEBEB" stroke-width="0.6"/>
<line x1="521.5" y1="296.36" x2="598.6" y2="296.36" stroke="#EBEBEB" stroke-width="1.2"/>
<line x1="521.5" y1="311.91" x2="598.6" y2="311.91" stroke="#EBEBEB" stroke-width="1.2"/>
<line x1="521.5" y1="328.96" x2="598.6" y2="328.96" stroke="#EBEBEB" stroke-width="1.2"/>
<line x1="521.5" y1="344.51" x2="598.6" y2="344.51" stroke="#EBEBEB" stroke-width="1.2"/>
<line x1="521.5" y1="361.56" x2="598.6" y2="361.56" stroke="#EBEBEB" stroke-width="1.2"/>
<line x1="522.9" y1="284.9" x2="522.9" y2="367.2" stroke="#EBEBEB" stroke-width="1.2"/>
<line x1="537.32" y1="284.9" x2="537.32" y2="367.2" stroke="#EBEBEB" stroke-width="1.2"/>
<line x1="551.74" y1="284.9" x2="551.74" y2="367.2" stroke="#EBEBEB" stroke-width="1.2"/>
<line x1="566.16" y1="284.9" x2="566.16" y2="367.2" stroke="#EBEBEB" stroke-width="1.2"/>
<line x1="580.58" y1="284.9" x2="580.58" y2="367.2" stroke="#EBEBEB" stroke-width="1.2"/>
<line x1="595" y1="284.9" x2="595" y2="367.2" stroke="#EBEBEB" stroke-width="1.2"/>
<path d="M524.7,354 L524.74,353.74 L524.78,353.42 L524.82,353.05 L524.87,352.61 L524.93,352.13 L524.99,351.6 L525.05,351.04 L525.12,350.44 L525.2,349.81 L525.29,349.15 L525.39,348.47 L525.49,347.78 L525.61,347.05 L525.74,346.23 L525.88,345.33 L526,344.58 L526.04,344.34 L526.21,343.28 L526.41,342.13 L526.62,340.9 L526.85,339.48 L527.11,337.85 L527.3,336.64 L527.39,336.07 L527.71,334.24 L528.05,332.29 L528.43,330.21 L528.6,329.37 L528.85,328.15 L529.32,326.15 L529.83,324.15 L529.9,323.91 L530.4,322.06 L531.02,319.75 L531.19,319.13 L531.71,317.41 L532.47,315.29 L532.49,315.23 L533.31,313.4 L533.79,312.44 L534.23,311.63 L535.09,310.19 L535.25,309.93 L536.37,308.25 L536.39,308.24 L537.62,306.64 L537.68,306.55 L538.98,305.05 L538.98,305.05 L540.28,303.67 L540.49,303.46 L541.58,302.49 L542.16,302.05 L542.88,301.56 L544,300.87 L544.18,300.76 L545.47,299.98 L546.03,299.63 L546.77,299.16 L548.07,298.34 L548.26,298.21 L549.37,297.53 L550.67,296.77 L550.73,296.73 L551.96,296.06 L553.26,295.42 L553.45,295.33 L554.56,294.86 L555.86,294.35 L556.46,294.13 L557.16,293.89 L558.45,293.46 L559.75,293.08 L559.77,293.07 L561.05,292.73 L562.35,292.43 L563.43,292.21 L563.65,292.16 L564.94,291.92 L566.24,291.7 L567.46,291.52 L567.54,291.51 L568.84,291.33 L570.14,291.18 L571.43,291.04 L571.91,290.99 L572.73,290.91 L574.03,290.8 L575.33,290.7 L576.63,290.62 L576.82,290.6 L577.93,290.54 L579.22,290.48 L580.52,290.42 L581.82,290.37 L582.23,290.35 L583.12,290.33 L584.42,290.29 L585.71,290.26 L587.01,290.23 L588.21,290.2 L588.31,290.2 L589.61,290.17 L590.91,290.15 L592.2,290.13 L593.5,290.12 L594.8,290.1" fill="none" stroke="#F4645E" stroke-width="2.05" stroke-linejoin="round"/>
<path d="M524.35,349.56 L524.39,349.42 L524.43,349.18 L524.47,348.84 L524.52,348.41 L524.57,347.91 L524.63,347.33 L524.7,346.7 L524.77,346.02 L524.85,345.3 L524.94,344.55 L525.03,343.78 L525.14,342.98 L525.26,341.98 L525.39,340.79 L525.53,339.49 L525.66,338.42 L525.69,338.15 L525.86,336.84 L526.06,335.52 L526.27,334.14 L526.5,332.7 L526.76,331.18 L526.96,330.05 L527.05,329.58 L527.36,327.9 L527.71,326.14 L528.09,324.26 L528.27,323.43 L528.51,322.28 L528.98,320.21 L529.49,318.01 L529.57,317.7 L530.06,315.82 L530.69,313.8 L530.87,313.24 L531.38,311.83 L532.14,309.99 L532.18,309.91 L532.98,308.36 L533.48,307.56 L533.91,306.97 L534.79,305.88 L534.93,305.71 L536.06,304.43 L536.09,304.4 L537.31,303.06 L537.4,302.96 L538.68,301.72 L538.7,301.71 L540.01,300.64 L540.2,300.49 L541.31,299.71 L541.87,299.34 L542.62,298.89 L543.72,298.31 L543.92,298.21 L545.23,297.61 L545.76,297.37 L546.53,297.01 L547.83,296.36 L548.01,296.27 L549.14,295.7 L550.44,295.05 L550.49,295.03 L551.75,294.43 L553.05,293.87 L553.22,293.8 L554.36,293.37 L555.66,292.93 L556.24,292.76 L556.97,292.54 L558.27,292.19 L559.57,291.87 L559.58,291.86 L560.88,291.57 L562.19,291.3 L563.25,291.1 L563.49,291.05 L564.79,290.83 L566.1,290.62 L567.3,290.44 L567.4,290.42 L568.71,290.24 L570.01,290.07 L571.32,289.9 L571.78,289.85 L572.62,289.75 L573.93,289.6 L575.23,289.47 L576.54,289.35 L576.71,289.34 L577.84,289.24 L579.14,289.13 L580.45,289.04 L581.75,288.95 L582.16,288.93 L583.06,288.88 L584.36,288.83 L585.67,288.8 L586.97,288.76 L588.17,288.73 L588.28,288.73 L589.58,288.7 L590.89,288.68 L592.19,288.66 L593.5,288.65 L594.8,288.65" fill="none" stroke="#4A8DF7" stroke-width="2.05" stroke-linejoin="round"/>
<line x1="524.5" y1="335.8" x2="594.7" y2="335.8" stroke="#000" stroke-width="1.86" stroke-dasharray="7.43 7.43"/>
<line x1="524.5" y1="363.5" x2="594.7" y2="363.5" stroke="#000" stroke-width="1.86" stroke-dasharray="1.86 5.57"/>
<rect x="521.5" y="284.9" width="77.1" height="82.3" fill="none" stroke="#333333" stroke-width="1.2"/>
<rect x="521.5" y="265.2" width="77.1" height="19.7" fill="#D9D9D9" stroke="#333333" stroke-width="1.2"/>
<text transform="translate(560.05,279.36) scale(0.96,1.1)" font-size="10.3" fill="#1A1A1A" color="#1A1A1A" text-anchor="middle">XOC</text>
<line x1="518.2" y1="296.5" x2="521.5" y2="296.5" stroke="#333333" stroke-width="1.1"/>
<text transform="translate(514.7,300.18) scale(0.975,1.08)" font-size="9.9" fill="#4D4D4D" color="#4D4D4D" text-anchor="end">30000</text>
<line x1="518.2" y1="311.5" x2="521.5" y2="311.5" stroke="#333333" stroke-width="1.1"/>
<text transform="translate(514.7,315.74) scale(0.975,1.08)" font-size="9.9" fill="#4D4D4D" color="#4D4D4D" text-anchor="end">10000</text>
<line x1="518.2" y1="328.5" x2="521.5" y2="328.5" stroke="#333333" stroke-width="1.1"/>
<text transform="translate(514.7,332.79) scale(0.975,1.08)" font-size="9.9" fill="#4D4D4D" color="#4D4D4D" text-anchor="end">3000</text>
<line x1="518.2" y1="344.5" x2="521.5" y2="344.5" stroke="#333333" stroke-width="1.1"/>
<text transform="translate(514.7,348.34) scale(0.975,1.08)" font-size="9.9" fill="#4D4D4D" color="#4D4D4D" text-anchor="end">1000</text>
<line x1="518.2" y1="361.5" x2="521.5" y2="361.5" stroke="#333333" stroke-width="1.1"/>
<text transform="translate(514.7,365.39) scale(0.975,1.08)" font-size="9.9" fill="#4D4D4D" color="#4D4D4D" text-anchor="end">300</text>
<line x1="522.5" y1="367.2" x2="522.5" y2="370.5" stroke="#333333" stroke-width="1.1"/>
<text transform="translate(526.74,373.9) rotate(-90) scale(1.035,1.0)" font-size="9.9" fill="#4D4D4D" color="#4D4D4D" text-anchor="end">0</text>
<line x1="537.5" y1="367.2" x2="537.5" y2="370.5" stroke="#333333" stroke-width="1.1"/>
<text transform="translate(541.16,373.9) rotate(-90) scale(1.035,1.0)" font-size="9.9" fill="#4D4D4D" color="#4D4D4D" text-anchor="end">100</text>
<line x1="551.5" y1="367.2" x2="551.5" y2="370.5" stroke="#333333" stroke-width="1.1"/>
<text transform="translate(555.58,373.9) rotate(-90) scale(1.035,1.0)" font-size="9.9" fill="#4D4D4D" color="#4D4D4D" text-anchor="end">200</text>
<line x1="566.5" y1="367.2" x2="566.5" y2="370.5" stroke="#333333" stroke-width="1.1"/>
<text transform="translate(570,373.9) rotate(-90) scale(1.035,1.0)" font-size="9.9" fill="#4D4D4D" color="#4D4D4D" text-anchor="end">300</text>
<line x1="580.5" y1="367.2" x2="580.5" y2="370.5" stroke="#333333" stroke-width="1.1"/>
<text transform="translate(584.42,373.9) rotate(-90) scale(1.035,1.0)" font-size="9.9" fill="#4D4D4D" color="#4D4D4D" text-anchor="end">400</text>
<line x1="595.5" y1="367.2" x2="595.5" y2="370.5" stroke="#333333" stroke-width="1.1"/>
<text transform="translate(598.84,373.9) rotate(-90) scale(1.035,1.0)" font-size="9.9" fill="#4D4D4D" color="#4D4D4D" text-anchor="end">500</text>
</g>
<g>
<line x1="51.4" y1="477.19" x2="128.5" y2="477.19" stroke="#EBEBEB" stroke-width="0.6"/>
<line x1="51.4" y1="453.75" x2="128.5" y2="453.75" stroke="#EBEBEB" stroke-width="0.6"/>
<line x1="51.4" y1="430.31" x2="128.5" y2="430.31" stroke="#EBEBEB" stroke-width="0.6"/>
<line x1="61.06" y1="416.2" x2="61.06" y2="498.4" stroke="#EBEBEB" stroke-width="0.6"/>
<line x1="76.29" y1="416.2" x2="76.29" y2="498.4" stroke="#EBEBEB" stroke-width="0.6"/>
<line x1="91.51" y1="416.2" x2="91.51" y2="498.4" stroke="#EBEBEB" stroke-width="0.6"/>
<line x1="106.74" y1="416.2" x2="106.74" y2="498.4" stroke="#EBEBEB" stroke-width="0.6"/>
<line x1="121.96" y1="416.2" x2="121.96" y2="498.4" stroke="#EBEBEB" stroke-width="0.6"/>
<line x1="51.4" y1="418.05" x2="128.5" y2="418.05" stroke="#EBEBEB" stroke-width="1.2"/>
<line x1="51.4" y1="442.56" x2="128.5" y2="442.56" stroke="#EBEBEB" stroke-width="1.2"/>
<line x1="51.4" y1="464.94" x2="128.5" y2="464.94" stroke="#EBEBEB" stroke-width="1.2"/>
<line x1="51.4" y1="489.45" x2="128.5" y2="489.45" stroke="#EBEBEB" stroke-width="1.2"/>
<line x1="53.45" y1="416.2" x2="53.45" y2="498.4" stroke="#EBEBEB" stroke-width="1.2"/>
<line x1="68.67" y1="416.2" x2="68.67" y2="498.4" stroke="#EBEBEB" stroke-width="1.2"/>
<line x1="83.9" y1="416.2" x2="83.9" y2="498.4" stroke="#EBEBEB" stroke-width="1.2"/>
<line x1="99.12" y1="416.2" x2="99.12" y2="498.4" stroke="#EBEBEB" stroke-width="1.2"/>
<line x1="114.35" y1="416.2" x2="114.35" y2="498.4" stroke="#EBEBEB" stroke-width="1.2"/>
<path d="M55.12,472.72 C55.23,471.73 55.44,468.61 55.76,466.8 C56.08,464.99 56.56,463.23 57.04,461.84 C57.52,460.45 57.95,459.6 58.64,458.48 C59.33,457.36 60.21,456.13 61.2,455.12 C62.19,454.11 63.31,453.24 64.56,452.4 C65.81,451.56 67.33,450.83 68.72,450.08 C70.11,449.33 71.49,448.68 72.88,447.92 C74.27,447.16 75.64,446.27 77.04,445.52 C78.44,444.77 79.6,444.04 81.28,443.44 C82.96,442.84 85.35,442.27 87.12,441.92 C88.89,441.57 90.37,441.53 91.92,441.36 C93.47,441.19 94.85,441.03 96.4,440.88 C97.95,440.73 99.28,440.6 101.2,440.48 C103.12,440.36 105.76,440.2 107.92,440.16 C110.08,440.12 113.12,440.23 114.16,440.24" fill="none" stroke="#F4645E" stroke-width="2.05" stroke-linejoin="round"/>
<path d="M54.96,452.4 C55.01,451.92 55.15,450.46 55.28,449.52 C55.41,448.58 55.54,447.9 55.76,446.74 C55.98,445.57 56.19,444.08 56.61,442.54 C57.03,441.01 57.51,438.92 58.27,437.52 C59.04,436.12 60.02,435.15 61.2,434.16 C62.38,433.17 63.82,432.32 65.36,431.6 C66.9,430.88 68.44,430.61 70.42,429.84 C72.39,429.07 74.27,427.96 77.2,426.96 C80.13,425.96 85.09,424.61 88,423.84 C90.91,423.07 92.42,422.74 94.64,422.32 C96.86,421.9 99.08,421.6 101.3,421.3 C103.51,420.99 105.7,420.69 107.92,420.5 C110.14,420.31 111.87,420.23 114.64,420.16 C117.41,420.09 122.91,420.09 124.56,420.08" fill="none" stroke="#4A8DF7" stroke-width="2.05" stroke-linejoin="round"/>
<line x1="54.8" y1="447.1" x2="124.7" y2="447.1" stroke="#000" stroke-width="1.86" stroke-dasharray="7.43 7.43"/>
<line x1="54.8" y1="495.3" x2="124.7" y2="495.3" stroke="#000" stroke-width="1.86" stroke-dasharray="1.86 5.57"/>
<rect x="51.4" y="416.2" width="77.1" height="82.2" fill="none" stroke="#333333" stroke-width="1.2"/>
<rect x="51.4" y="396.5" width="77.1" height="19.7" fill="#D9D9D9" stroke="#333333" stroke-width="1.2"/>
<text transform="translate(89.95,410.66) scale(0.96,1.1)" font-size="10.3" fill="#1A1A1A" color="#1A1A1A" text-anchor="middle">XSA</text>
<line x1="48.1" y1="418.5" x2="51.4" y2="418.5" stroke="#333333" stroke-width="1.1"/>
<text transform="translate(44.6,421.88) scale(0.975,1.08)" font-size="9.9" fill="#4D4D4D" color="#4D4D4D" text-anchor="end">10000</text>
<line x1="48.1" y1="442.5" x2="51.4" y2="442.5" stroke="#333333" stroke-width="1.1"/>
<text transform="translate(44.6,446.39) scale(0.975,1.08)" font-size="9.9" fill="#4D4D4D" color="#4D4D4D" text-anchor="end">3000</text>
<line x1="48.1" y1="464.5" x2="51.4" y2="464.5" stroke="#333333" stroke-width="1.1"/>
<text transform="translate(44.6,468.76) scale(0.975,1.08)" font-size="9.9" fill="#4D4D4D" color="#4D4D4D" text-anchor="end">1000</text>
<line x1="48.1" y1="489.5" x2="51.4" y2="489.5" stroke="#333333" stroke-width="1.1"/>
<text transform="translate(44.6,493.28) scale(0.975,1.08)" font-size="9.9" fill="#4D4D4D" color="#4D4D4D" text-anchor="end">300</text>
<line x1="53.5" y1="498.4" x2="53.5" y2="501.7" stroke="#333333" stroke-width="1.1"/>
<text transform="translate(57.29,505.1) rotate(-90) scale(1.035,1.0)" font-size="9.9" fill="#4D4D4D" color="#4D4D4D" text-anchor="end">0</text>
<line x1="68.5" y1="498.4" x2="68.5" y2="501.7" stroke="#333333" stroke-width="1.1"/>
<text transform="translate(72.52,505.1) rotate(-90) scale(1.035,1.0)" font-size="9.9" fill="#4D4D4D" color="#4D4D4D" text-anchor="end">100</text>
<line x1="83.5" y1="498.4" x2="83.5" y2="501.7" stroke="#333333" stroke-width="1.1"/>
<text transform="translate(87.74,505.1) rotate(-90) scale(1.035,1.0)" font-size="9.9" fill="#4D4D4D" color="#4D4D4D" text-anchor="end">200</text>
<line x1="99.5" y1="498.4" x2="99.5" y2="501.7" stroke="#333333" stroke-width="1.1"/>
<text transform="translate(102.97,505.1) rotate(-90) scale(1.035,1.0)" font-size="9.9" fill="#4D4D4D" color="#4D4D4D" text-anchor="end">300</text>
<line x1="114.5" y1="498.4" x2="114.5" y2="501.7" stroke="#333333" stroke-width="1.1"/>
<text transform="translate(118.19,505.1) rotate(-90) scale(1.035,1.0)" font-size="9.9" fill="#4D4D4D" color="#4D4D4D" text-anchor="end">400</text>
</g>
<g>
<line x1="169" y1="493.03" x2="246.1" y2="493.03" stroke="#EBEBEB" stroke-width="0.6"/>
<line x1="169" y1="465.07" x2="246.1" y2="465.07" stroke="#EBEBEB" stroke-width="0.6"/>
<line x1="169" y1="437.12" x2="246.1" y2="437.12" stroke="#EBEBEB" stroke-width="0.6"/>
<line x1="178.05" y1="416.2" x2="178.05" y2="498.4" stroke="#EBEBEB" stroke-width="0.6"/>
<line x1="192.35" y1="416.2" x2="192.35" y2="498.4" stroke="#EBEBEB" stroke-width="0.6"/>
<line x1="206.65" y1="416.2" x2="206.65" y2="498.4" stroke="#EBEBEB" stroke-width="0.6"/>
<line x1="220.95" y1="416.2" x2="220.95" y2="498.4" stroke="#EBEBEB" stroke-width="0.6"/>
<line x1="235.25" y1="416.2" x2="235.25" y2="498.4" stroke="#EBEBEB" stroke-width="0.6"/>
<line x1="169" y1="423.15" x2="246.1" y2="423.15" stroke="#EBEBEB" stroke-width="1.2"/>
<line x1="169" y1="451.1" x2="246.1" y2="451.1" stroke="#EBEBEB" stroke-width="1.2"/>
<line x1="169" y1="479.05" x2="246.1" y2="479.05" stroke="#EBEBEB" stroke-width="1.2"/>
<line x1="170.9" y1="416.2" x2="170.9" y2="498.4" stroke="#EBEBEB" stroke-width="1.2"/>
<line x1="185.2" y1="416.2" x2="185.2" y2="498.4" stroke="#EBEBEB" stroke-width="1.2"/>
<line x1="199.5" y1="416.2" x2="199.5" y2="498.4" stroke="#EBEBEB" stroke-width="1.2"/>
<line x1="213.8" y1="416.2" x2="213.8" y2="498.4" stroke="#EBEBEB" stroke-width="1.2"/>
<line x1="228.1" y1="416.2" x2="228.1" y2="498.4" stroke="#EBEBEB" stroke-width="1.2"/>
<line x1="242.4" y1="416.2" x2="242.4" y2="498.4" stroke="#EBEBEB" stroke-width="1.2"/>
<path d="M172,494.8 C172.13,493.87 172.45,490.93 172.8,489.2 C173.15,487.47 173.55,485.87 174.08,484.4 C174.61,482.93 175.28,481.6 176,480.4 C176.72,479.2 177.47,478.13 178.4,477.2 C179.33,476.27 180.67,475.33 181.6,474.8 C182.53,474.27 182.8,474.48 184,474 C185.2,473.52 186.93,472.53 188.8,471.92 C190.67,471.31 192.8,470.77 195.2,470.32 C197.6,469.87 200.27,469.52 203.2,469.2 C206.13,468.88 209.33,468.59 212.8,468.4 C216.27,468.21 219.33,468.21 224,468.08 C228.67,467.95 238,467.68 240.8,467.6" fill="none" stroke="#F4645E" stroke-width="2.05" stroke-linejoin="round"/>
<path d="M172,446 C172.08,445.2 172.27,442.8 172.48,441.2 C172.69,439.6 172.96,437.87 173.28,436.4 C173.6,434.93 173.95,433.55 174.4,432.4 C174.85,431.25 175.33,430.37 176,429.52 C176.67,428.67 177.47,427.87 178.4,427.28 C179.33,426.69 180.4,426.35 181.6,426 C182.8,425.65 183.87,425.41 185.6,425.2 C187.33,424.99 189.07,424.85 192,424.72 C194.93,424.59 199.2,424.48 203.2,424.4 C207.2,424.32 209.47,424.27 216,424.24 C222.53,424.21 238,424.24 242.4,424.24" fill="none" stroke="#00AE30" stroke-width="2.05" stroke-linejoin="round"/>
<path d="M172,444.4 C172.08,443.6 172.27,441.2 172.48,439.6 C172.69,438 172.96,436.27 173.28,434.8 C173.6,433.33 173.95,431.92 174.4,430.8 C174.85,429.68 175.33,428.88 176,428.08 C176.67,427.28 177.47,426.56 178.4,426 C179.33,425.44 180.4,425.07 181.6,424.72 C182.8,424.37 183.87,424.19 185.6,423.92 C187.33,423.65 189.07,423.31 192,423.12 C194.93,422.93 199.2,422.91 203.2,422.8 C207.2,422.69 209.47,422.61 216,422.48 C222.53,422.35 238,422.08 242.4,422" fill="none" stroke="#4A8DF7" stroke-width="2.05" stroke-linejoin="round"/>
<line x1="172" y1="420.1" x2="242.4" y2="420.1" stroke="#000" stroke-width="1.86" stroke-dasharray="7.43 7.43"/>
<line x1="172" y1="444.1" x2="242.4" y2="444.1" stroke="#000" stroke-width="1.86" stroke-dasharray="1.86 5.57"/>
<rect x="169" y="416.2" width="77.1" height="82.2" fill="none" stroke="#333333" stroke-width="1.2"/>
<rect x="169" y="396.5" width="77.1" height="19.7" fill="#D9D9D9" stroke="#333333" stroke-width="1.2"/>
<text transform="translate(207.55,410.66) scale(0.96,1.1)" font-size="10.3" fill="#1A1A1A" color="#1A1A1A" text-anchor="middle">XSE</text>
<line x1="165.7" y1="423.5" x2="169" y2="423.5" stroke="#333333" stroke-width="1.1"/>
<text transform="translate(162.2,426.98) scale(0.975,1.08)" font-size="9.9" fill="#4D4D4D" color="#4D4D4D" text-anchor="end">10000</text>
<line x1="165.7" y1="451.5" x2="169" y2="451.5" stroke="#333333" stroke-width="1.1"/>
<text transform="translate(162.2,454.93) scale(0.975,1.08)" font-size="9.9" fill="#4D4D4D" color="#4D4D4D" text-anchor="end">1000</text>
<line x1="165.7" y1="479.5" x2="169" y2="479.5" stroke="#333333" stroke-width="1.1"/>
<text transform="translate(162.2,482.88) scale(0.975,1.08)" font-size="9.9" fill="#4D4D4D" color="#4D4D4D" text-anchor="end">100</text>
<line x1="170.5" y1="498.4" x2="170.5" y2="501.7" stroke="#333333" stroke-width="1.1"/>
<text transform="translate(174.74,505.1) rotate(-90) scale(1.035,1.0)" font-size="9.9" fill="#4D4D4D" color="#4D4D4D" text-anchor="end">0</text>
<line x1="185.5" y1="498.4" x2="185.5" y2="501.7" stroke="#333333" stroke-width="1.1"/>
<text transform="translate(189.04,505.1) rotate(-90) scale(1.035,1.0)" font-size="9.9" fill="#4D4D4D" color="#4D4D4D" text-anchor="end">100</text>
<line x1="199.5" y1="498.4" x2="199.5" y2="501.7" stroke="#333333" stroke-width="1.1"/>
<text transform="translate(203.34,505.1) rotate(-90) scale(1.035,1.0)" font-size="9.9" fill="#4D4D4D" color="#4D4D4D" text-anchor="end">200</text>
<line x1="213.5" y1="498.4" x2="213.5" y2="501.7" stroke="#333333" stroke-width="1.1"/>
<text transform="translate(217.64,505.1) rotate(-90) scale(1.035,1.0)" font-size="9.9" fill="#4D4D4D" color="#4D4D4D" text-anchor="end">300</text>
<line x1="228.5" y1="498.4" x2="228.5" y2="501.7" stroke="#333333" stroke-width="1.1"/>
<text transform="translate(231.94,505.1) rotate(-90) scale(1.035,1.0)" font-size="9.9" fill="#4D4D4D" color="#4D4D4D" text-anchor="end">400</text>
<line x1="242.5" y1="498.4" x2="242.5" y2="501.7" stroke="#333333" stroke-width="1.1"/>
<text transform="translate(246.24,505.1) rotate(-90) scale(1.035,1.0)" font-size="9.9" fill="#4D4D4D" color="#4D4D4D" text-anchor="end">500</text>
</g>
<text x="325" y="533.9" font-size="12.9" fill="#000" color="#000" text-anchor="middle">Distance to closest urban area [km]</text>
<text transform="translate(12.2,260.3) rotate(-90)" font-size="12.9" fill="#000" color="#000" text-anchor="middle">Cumulative energy potential [TWh/yr]</text>
<text x="337.9" y="433.4" font-size="11.35" fill="#000" color="#000">capacity factor</text>
<line x1="339.5" y1="450.3" x2="355.0" y2="450.3" stroke="#F4645E" stroke-width="1.5"/>
<text x="362.5" y="454.6" font-size="9.4" fill="#000" color="#000">&gt;24%</text>
<line x1="339.5" y1="470.3" x2="355.0" y2="470.3" stroke="#00AE30" stroke-width="1.5"/>
<text x="362.5" y="474.6" font-size="9.4" fill="#000" color="#000">&gt;20%</text>
<line x1="339.5" y1="490.2" x2="355.0" y2="490.2" stroke="#4A8DF7" stroke-width="1.5"/>
<text x="362.5" y="494.5" font-size="9.4" fill="#000" color="#000">Total</text>
<line x1="462.6" y1="429.8" x2="478.6" y2="429.8" stroke="#000" stroke-width="0.9" stroke-dasharray="3.2 3.0"/>
<text transform="translate(486.1,434.8) scale(0.88,1.12)" font-size="9.4" fill="#000" color="#000">TPES</text>
<line x1="462.6" y1="450.2" x2="478.6" y2="450.2" stroke="#000" stroke-width="0.9" stroke-dasharray="0.9 2.4"/>
<text x="486.0" y="454.5" font-size="9.4" fill="#000" color="#000">Elec_consump</text>
</svg></body></html>
